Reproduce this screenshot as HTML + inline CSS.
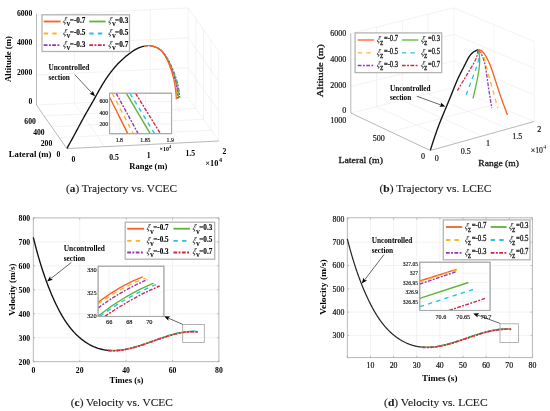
<!DOCTYPE html><html><head><meta charset="utf-8"><style>html,body{margin:0;padding:0;background:#fff;}svg{display:block;}</style></head><body><svg width="550" height="411" viewBox="0 0 550 411">
<rect width="550" height="411" fill="#fff"/>
<g font-family="'Liberation Serif', serif">
<line x1="59.22" y1="137.70" x2="211.07" y2="130.15" stroke="#e6e6e6" stroke-width="0.5" />
<line x1="51.65" y1="126.80" x2="203.45" y2="119.30" stroke="#e6e6e6" stroke-width="0.5" />
<line x1="44.08" y1="115.90" x2="195.82" y2="108.45" stroke="#e6e6e6" stroke-width="0.5" />
<line x1="104.77" y1="146.70" x2="74.42" y2="103.15" stroke="#e6e6e6" stroke-width="0.5" />
<line x1="142.75" y1="144.80" x2="112.35" y2="101.30" stroke="#e6e6e6" stroke-width="0.5" />
<line x1="180.72" y1="142.90" x2="150.27" y2="99.45" stroke="#e6e6e6" stroke-width="0.5" />
<line x1="36.50" y1="105.00" x2="188.20" y2="97.60" stroke="#e6e6e6" stroke-width="0.5" />
<line x1="188.20" y1="97.60" x2="218.70" y2="141.00" stroke="#e6e6e6" stroke-width="0.5" />
<line x1="74.42" y1="103.15" x2="74.42" y2="13.45" stroke="#e6e6e6" stroke-width="0.5" />
<line x1="112.35" y1="101.30" x2="112.35" y2="11.60" stroke="#e6e6e6" stroke-width="0.5" />
<line x1="150.27" y1="99.45" x2="150.27" y2="9.75" stroke="#e6e6e6" stroke-width="0.5" />
<line x1="188.20" y1="97.60" x2="188.20" y2="7.90" stroke="#e6e6e6" stroke-width="0.5" />
<line x1="36.50" y1="75.10" x2="188.20" y2="67.70" stroke="#e6e6e6" stroke-width="0.5" />
<line x1="36.50" y1="45.20" x2="188.20" y2="37.80" stroke="#e6e6e6" stroke-width="0.5" />
<line x1="36.50" y1="15.30" x2="188.20" y2="7.90" stroke="#e6e6e6" stroke-width="0.5" />
<line x1="211.07" y1="130.15" x2="211.07" y2="40.45" stroke="#e6e6e6" stroke-width="0.5" />
<line x1="203.45" y1="119.30" x2="203.45" y2="29.60" stroke="#e6e6e6" stroke-width="0.5" />
<line x1="195.82" y1="108.45" x2="195.82" y2="18.75" stroke="#e6e6e6" stroke-width="0.5" />
<line x1="218.70" y1="141.00" x2="218.70" y2="51.30" stroke="#e6e6e6" stroke-width="0.5" />
<line x1="188.20" y1="67.70" x2="218.70" y2="111.10" stroke="#e6e6e6" stroke-width="0.5" />
<line x1="188.20" y1="37.80" x2="218.70" y2="81.20" stroke="#e6e6e6" stroke-width="0.5" />
<line x1="188.20" y1="7.90" x2="218.70" y2="51.30" stroke="#e6e6e6" stroke-width="0.5" />
<line x1="36.50" y1="13.50" x2="36.50" y2="105.00" stroke="#b0b0b0" stroke-width="0.9" />
<line x1="36.50" y1="105.00" x2="66.80" y2="148.60" stroke="#b0b0b0" stroke-width="0.9" />
<line x1="66.80" y1="148.60" x2="218.70" y2="141.00" stroke="#b0b0b0" stroke-width="0.9" />
<text x="32.30" y="15.70" font-size="7.7" font-weight="bold" text-anchor="end">6000</text>
<text x="32.30" y="44.70" font-size="7.7" font-weight="bold" text-anchor="end">4000</text>
<text x="32.30" y="74.70" font-size="7.7" font-weight="bold" text-anchor="end">2000</text>
<text x="32.30" y="103.70" font-size="7.7" font-weight="bold" text-anchor="end">0</text>
<text x="30.10" y="124.00" font-size="7.7" font-weight="bold" text-anchor="middle">600</text>
<text x="38.90" y="134.90" font-size="7.7" font-weight="bold" text-anchor="middle">400</text>
<text x="46.50" y="145.90" font-size="7.7" font-weight="bold" text-anchor="middle">200</text>
<text x="58.30" y="157.30" font-size="7.7" font-weight="bold" text-anchor="middle">0</text>
<text x="73.40" y="162.30" font-size="7.7" font-weight="bold" text-anchor="middle">0</text>
<text x="114.00" y="160.10" font-size="7.7" font-weight="bold" text-anchor="middle">0.5</text>
<text x="148.60" y="158.30" font-size="7.7" font-weight="bold" text-anchor="middle">1</text>
<text x="190.20" y="155.90" font-size="7.7" font-weight="bold" text-anchor="middle">1.5</text>
<text x="224.40" y="153.70" font-size="7.7" font-weight="bold" text-anchor="middle">2</text>
<text x="205.30" y="166.20" font-size="8.6" font-weight="bold" textLength="13.10" lengthAdjust="spacingAndGlyphs">×10</text>
<text x="219.10" y="162.30" font-size="6.2" font-weight="bold">4</text>
<text x="8.80" y="157.00" font-size="8.7" font-weight="bold" textLength="42.70" lengthAdjust="spacingAndGlyphs">Lateral (m)</text>
<text x="129.30" y="169.00" font-size="8.7" font-weight="bold" textLength="38.10" lengthAdjust="spacingAndGlyphs">Range (m)</text>
<text x="11.30" y="82.00" font-size="9.0" font-weight="bold" textLength="46.00" lengthAdjust="spacingAndGlyphs" transform="rotate(-90 11.30 82.00)">Altitude (m)</text>
<path d="M67.00,148.30 L67.53,147.34 L68.07,146.37 L68.60,145.41 L69.13,144.44 L69.67,143.47 L70.20,142.51 L70.73,141.54 L71.26,140.58 L71.79,139.61 L72.32,138.64 L72.85,137.67 L73.38,136.70 L73.90,135.74 L74.43,134.77 L74.95,133.79 L75.47,132.82 L75.99,131.85 L76.51,130.88 L77.03,129.90 L77.55,128.93 L78.07,127.96 L78.59,126.99 L79.11,126.01 L79.63,125.04 L80.15,124.07 L80.67,123.10 L81.19,122.13 L81.72,121.16 L82.25,120.19 L82.77,119.22 L83.31,118.25 L83.84,117.29 L84.38,116.33 L84.91,115.36 L85.46,114.40 L86.00,113.44 L86.54,112.49 L87.09,111.53 L87.64,110.57 L88.19,109.61 L88.74,108.66 L89.29,107.70 L89.84,106.75 L90.39,105.79 L90.94,104.84 L91.49,103.88 L92.04,102.92 L92.58,101.97 L93.13,101.01 L93.68,100.05 L94.22,99.09 L94.76,98.13 L95.30,97.17 L95.84,96.20 L96.37,95.24 L96.91,94.27 L97.44,93.31 L97.97,92.34 L98.51,91.38 L99.05,90.41 L99.59,89.45 L100.13,88.49 L100.68,87.54 L101.23,86.58 L101.79,85.63 L102.35,84.68 L102.92,83.74 L103.49,82.80 L104.08,81.86 L104.67,80.93 L105.27,80.00 L105.87,79.08 L106.49,78.17 L107.11,77.26 L107.74,76.35 L108.38,75.45 L109.03,74.56 L109.68,73.67 L110.34,72.79 L111.02,71.91 L111.69,71.04 L112.38,70.17 L113.08,69.31 L113.78,68.46 L114.49,67.62 L115.21,66.78 L115.94,65.95 L116.67,65.13 L117.42,64.32 L118.18,63.51 L118.94,62.72 L119.72,61.93 L120.50,61.16 L121.30,60.40 L122.11,59.65 L122.93,58.91 L123.75,58.18 L124.59,57.46 L125.43,56.75 L126.29,56.05 L127.15,55.36 L128.02,54.68 L128.89,54.01 L129.77,53.34 L130.66,52.69 L131.56,52.04 L132.46,51.41 L133.38,50.79 L134.31,50.20 L135.26,49.64 L136.22,49.10 L137.21,48.60 L138.21,48.13 L139.23,47.71 L140.26,47.32 L141.31,46.97 L142.37,46.66 L143.43,46.37 L144.50,46.10" fill="none" stroke="#111" stroke-width="1.35" />
<path d="M144.50,46.10 L145.08,45.97 L145.66,45.85 L146.24,45.73 L146.81,45.64 L147.39,45.56 L147.97,45.51 L148.55,45.50 L149.13,45.52 L149.71,45.57 L150.29,45.65 L150.87,45.76 L151.44,45.88 L152.02,46.03 L152.59,46.18 L153.16,46.35 L153.73,46.52 L154.30,46.70 L154.86,46.89 L155.42,47.09 L155.97,47.31 L156.51,47.54 L157.04,47.78 L157.56,48.04 L158.09,48.31 L158.61,48.59 L159.12,48.90 L159.61,49.22 L160.09,49.57 L160.56,49.93 L161.02,50.31 L161.47,50.70 L161.91,51.11 L162.33,51.53 L162.75,51.96 L163.16,52.41 L163.55,52.86 L163.94,53.33 L164.32,53.80 L164.68,54.28 L165.05,54.77 L165.40,55.27 L165.74,55.76 L166.08,56.27 L166.41,56.77 L166.73,57.28 L167.05,57.79 L167.36,58.30 L167.66,58.81 L167.95,59.32 L168.25,59.83 L168.53,60.35 L168.81,60.86 L169.09,61.38 L169.36,61.90 L169.62,62.41 L169.88,62.94 L170.14,63.46 L170.39,63.98 L170.64,64.50 L170.89,65.03 L171.13,65.55 L171.37,66.08 L171.60,66.61 L171.84,67.14 L172.07,67.67 L172.30,68.20 L172.53,68.74 L172.75,69.27 L172.97,69.81 L173.19,70.34 L173.41,70.88 L173.63,71.42 L173.84,71.96 L174.05,72.50 L174.25,73.04 L174.46,73.59 L174.66,74.13 L174.85,74.67 L175.05,75.22 L175.24,75.77 L175.43,76.31 L175.61,76.86 L175.79,77.41 L175.97,77.96 L176.14,78.51 L176.31,79.06 L176.47,79.61 L176.63,80.17 L176.79,80.72 L176.95,81.27 L177.10,81.83 L177.24,82.38 L177.39,82.94 L177.53,83.50 L177.67,84.05 L177.80,84.61 L177.93,85.17 L178.06,85.73 L178.18,86.29 L178.30,86.85 L178.42,87.41 L178.54,87.97 L178.65,88.53 L178.76,89.09 L178.87,89.65 L178.97,90.21 L179.08,90.77 L179.18,91.33 L179.23,91.91 L179.28,92.50 L179.34,93.08 L179.38,93.66 L179.43,94.25 L179.48,94.83 L179.52,95.41 L179.57,96.00 L179.61,96.58 L179.66,97.17 L179.70,97.75" fill="none" stroke="#d1264a" stroke-width="1.2" stroke-dasharray="3.8,1.4,1.9,1.4" />
<path d="M144.50,46.10 L145.08,45.97 L145.66,45.85 L146.24,45.73 L146.81,45.64 L147.39,45.56 L147.97,45.51 L148.55,45.50 L149.13,45.52 L149.71,45.57 L150.29,45.65 L150.87,45.76 L151.44,45.88 L152.02,46.03 L152.59,46.18 L153.16,46.35 L153.73,46.52 L154.30,46.70 L154.86,46.89 L155.42,47.09 L155.97,47.31 L156.51,47.54 L157.04,47.78 L157.56,48.04 L158.09,48.31 L158.60,48.60 L159.11,48.90 L159.59,49.23 L160.07,49.58 L160.54,49.94 L160.99,50.32 L161.43,50.72 L161.86,51.13 L162.28,51.55 L162.69,51.99 L163.09,52.44 L163.48,52.90 L163.86,53.36 L164.24,53.84 L164.60,54.33 L164.95,54.82 L165.30,55.32 L165.63,55.82 L165.96,56.32 L166.29,56.83 L166.60,57.34 L166.91,57.85 L167.21,58.37 L167.51,58.88 L167.80,59.40 L168.08,59.91 L168.36,60.43 L168.63,60.95 L168.90,61.47 L169.16,61.99 L169.42,62.51 L169.68,63.04 L169.93,63.56 L170.17,64.09 L170.41,64.62 L170.65,65.15 L170.89,65.68 L171.12,66.21 L171.35,66.74 L171.57,67.27 L171.80,67.81 L172.02,68.34 L172.24,68.88 L172.46,69.42 L172.67,69.96 L172.88,70.50 L173.09,71.04 L173.30,71.58 L173.51,72.13 L173.71,72.67 L173.91,73.22 L174.10,73.76 L174.30,74.31 L174.48,74.86 L174.67,75.41 L174.85,75.96 L175.03,76.51 L175.21,77.06 L175.38,77.61 L175.55,78.17 L175.72,78.72 L175.88,79.28 L176.04,79.83 L176.19,80.39 L176.34,80.95 L176.49,81.50 L176.63,82.06 L176.77,82.62 L176.90,83.18 L177.04,83.74 L177.17,84.30 L177.29,84.86 L177.42,85.43 L177.54,85.99 L177.65,86.55 L177.77,87.11 L177.88,87.68 L177.98,88.24 L178.09,88.81 L178.19,89.37 L178.29,89.94 L178.39,90.50 L178.48,91.07 L178.58,91.63 L178.63,92.21 L178.68,92.80 L178.74,93.38 L178.78,93.96 L178.83,94.55 L178.88,95.13 L178.92,95.71 L178.97,96.30 L179.01,96.88 L179.06,97.47 L179.10,98.05" fill="none" stroke="#27c0f0" stroke-width="1.2" stroke-dasharray="4.4,4.2" />
<path d="M144.50,46.10 L145.08,45.97 L145.66,45.85 L146.24,45.73 L146.81,45.64 L147.39,45.56 L147.97,45.51 L148.55,45.50 L149.13,45.52 L149.71,45.57 L150.29,45.65 L150.87,45.76 L151.44,45.88 L152.02,46.03 L152.59,46.18 L153.16,46.35 L153.73,46.52 L154.30,46.70 L154.86,46.89 L155.42,47.09 L155.97,47.31 L156.51,47.54 L157.04,47.78 L157.56,48.04 L158.08,48.31 L158.59,48.60 L159.09,48.91 L159.58,49.24 L160.05,49.59 L160.51,49.95 L160.96,50.34 L161.40,50.74 L161.82,51.15 L162.24,51.58 L162.64,52.02 L163.03,52.47 L163.42,52.93 L163.79,53.40 L164.16,53.88 L164.51,54.37 L164.86,54.86 L165.20,55.37 L165.53,55.87 L165.85,56.38 L166.17,56.89 L166.47,57.41 L166.78,57.92 L167.07,58.44 L167.36,58.96 L167.64,59.48 L167.92,60.00 L168.19,60.52 L168.46,61.04 L168.72,61.56 L168.97,62.09 L169.22,62.61 L169.47,63.14 L169.71,63.67 L169.95,64.20 L170.18,64.73 L170.42,65.26 L170.64,65.80 L170.87,66.33 L171.09,66.87 L171.31,67.40 L171.53,67.94 L171.74,68.48 L171.95,69.02 L172.16,69.57 L172.37,70.11 L172.57,70.65 L172.78,71.20 L172.98,71.74 L173.17,72.29 L173.37,72.84 L173.56,73.39 L173.75,73.94 L173.93,74.49 L174.12,75.04 L174.29,75.60 L174.47,76.15 L174.64,76.70 L174.81,77.26 L174.98,77.82 L175.14,78.37 L175.29,78.93 L175.45,79.49 L175.60,80.05 L175.74,80.61 L175.89,81.17 L176.03,81.74 L176.16,82.30 L176.29,82.86 L176.42,83.42 L176.55,83.99 L176.67,84.55 L176.79,85.12 L176.90,85.68 L177.01,86.25 L177.12,86.82 L177.23,87.38 L177.33,87.95 L177.43,88.52 L177.53,89.09 L177.62,89.65 L177.72,90.22 L177.81,90.79 L177.89,91.36 L177.98,91.93 L178.03,92.51 L178.08,93.10 L178.14,93.68 L178.18,94.26 L178.23,94.85 L178.28,95.43 L178.32,96.01 L178.37,96.60 L178.41,97.18 L178.46,97.77 L178.50,98.35" fill="none" stroke="#5db535" stroke-width="1.2" />
<path d="M144.50,46.10 L145.08,45.97 L145.66,45.85 L146.24,45.73 L146.81,45.64 L147.39,45.56 L147.97,45.51 L148.55,45.50 L149.13,45.52 L149.71,45.57 L150.29,45.65 L150.87,45.76 L151.44,45.88 L152.02,46.03 L152.59,46.18 L153.16,46.35 L153.73,46.52 L154.30,46.70 L154.86,46.89 L155.42,47.09 L155.97,47.31 L156.51,47.54 L157.04,47.78 L157.56,48.04 L158.08,48.31 L158.59,48.61 L159.08,48.92 L159.56,49.25 L160.03,49.60 L160.48,49.97 L160.92,50.36 L161.35,50.76 L161.77,51.17 L162.18,51.60 L162.58,52.05 L162.96,52.50 L163.34,52.97 L163.70,53.44 L164.06,53.93 L164.41,54.42 L164.75,54.92 L165.08,55.42 L165.40,55.93 L165.72,56.45 L166.02,56.96 L166.32,57.48 L166.62,58.00 L166.90,58.52 L167.18,59.04 L167.46,59.57 L167.73,60.09 L167.99,60.62 L168.25,61.14 L168.50,61.67 L168.75,62.20 L168.99,62.73 L169.23,63.26 L169.46,63.80 L169.69,64.33 L169.92,64.86 L170.14,65.40 L170.36,65.94 L170.58,66.48 L170.79,67.02 L171.00,67.56 L171.21,68.10 L171.41,68.65 L171.62,69.19 L171.82,69.74 L172.02,70.28 L172.21,70.83 L172.41,71.38 L172.60,71.93 L172.79,72.48 L172.97,73.04 L173.16,73.59 L173.33,74.15 L173.51,74.70 L173.68,75.26 L173.85,75.82 L174.02,76.37 L174.18,76.93 L174.34,77.49 L174.50,78.05 L174.65,78.62 L174.80,79.18 L174.95,79.74 L175.09,80.31 L175.22,80.87 L175.36,81.44 L175.49,82.00 L175.61,82.57 L175.74,83.14 L175.86,83.71 L175.97,84.27 L176.09,84.84 L176.19,85.41 L176.30,85.98 L176.40,86.55 L176.50,87.13 L176.60,87.70 L176.70,88.27 L176.79,88.84 L176.87,89.41 L176.96,89.99 L177.04,90.56 L177.12,91.13 L177.20,91.71 L177.28,92.28 L177.33,92.86 L177.38,93.45 L177.44,94.03 L177.48,94.61 L177.53,95.20 L177.58,95.78 L177.62,96.36 L177.67,96.95 L177.71,97.53 L177.76,98.12 L177.80,98.70" fill="none" stroke="#9a34b5" stroke-width="1.2" stroke-dasharray="3.8,1.4,1.9,1.4" />
<path d="M144.50,46.10 L145.08,45.97 L145.66,45.85 L146.24,45.73 L146.81,45.64 L147.39,45.56 L147.97,45.51 L148.55,45.50 L149.13,45.52 L149.71,45.57 L150.29,45.65 L150.87,45.76 L151.44,45.88 L152.02,46.03 L152.59,46.18 L153.16,46.35 L153.73,46.52 L154.30,46.70 L154.86,46.89 L155.42,47.09 L155.97,47.31 L156.51,47.54 L157.04,47.78 L157.56,48.04 L158.07,48.32 L158.58,48.61 L159.06,48.93 L159.54,49.26 L160.00,49.61 L160.45,49.99 L160.88,50.37 L161.31,50.78 L161.72,51.20 L162.12,51.63 L162.51,52.08 L162.89,52.54 L163.26,53.01 L163.62,53.49 L163.97,53.97 L164.31,54.47 L164.64,54.97 L164.96,55.48 L165.28,56.00 L165.58,56.51 L165.88,57.03 L166.17,57.56 L166.46,58.08 L166.74,58.60 L167.01,59.13 L167.28,59.66 L167.54,60.19 L167.79,60.72 L168.04,61.25 L168.28,61.78 L168.52,62.31 L168.76,62.85 L168.99,63.38 L169.21,63.92 L169.43,64.46 L169.65,65.00 L169.87,65.54 L170.08,66.08 L170.28,66.62 L170.49,67.17 L170.69,67.71 L170.89,68.26 L171.09,68.81 L171.28,69.36 L171.47,69.91 L171.67,70.46 L171.85,71.01 L172.04,71.57 L172.22,72.12 L172.40,72.68 L172.58,73.24 L172.75,73.79 L172.92,74.35 L173.09,74.91 L173.25,75.47 L173.42,76.04 L173.57,76.60 L173.73,77.16 L173.88,77.73 L174.03,78.29 L174.17,78.86 L174.31,79.43 L174.44,79.99 L174.58,80.56 L174.71,81.13 L174.83,81.70 L174.95,82.27 L175.07,82.84 L175.18,83.42 L175.29,83.99 L175.40,84.56 L175.50,85.14 L175.60,85.71 L175.70,86.28 L175.79,86.86 L175.89,87.43 L175.97,88.01 L176.06,88.59 L176.14,89.16 L176.22,89.74 L176.30,90.32 L176.37,90.90 L176.44,91.47 L176.51,92.05 L176.58,92.63 L176.63,93.21 L176.68,93.80 L176.74,94.38 L176.78,94.96 L176.83,95.55 L176.88,96.13 L176.92,96.71 L176.97,97.30 L177.01,97.88 L177.06,98.47 L177.10,99.05" fill="none" stroke="#fdb42a" stroke-width="1.2" stroke-dasharray="4.4,4.2" />
<path d="M144.50,46.10 L145.08,45.97 L145.66,45.85 L146.24,45.73 L146.81,45.64 L147.39,45.56 L147.97,45.51 L148.55,45.50 L149.13,45.52 L149.71,45.57 L150.29,45.65 L150.87,45.76 L151.44,45.88 L152.02,46.03 L152.59,46.18 L153.16,46.35 L153.73,46.52 L154.30,46.70 L154.86,46.89 L155.42,47.09 L155.97,47.31 L156.51,47.54 L157.04,47.78 L157.56,48.04 L158.07,48.32 L158.57,48.62 L159.05,48.93 L159.52,49.27 L159.97,49.63 L160.42,50.00 L160.85,50.39 L161.27,50.80 L161.67,51.22 L162.06,51.66 L162.45,52.11 L162.82,52.57 L163.18,53.05 L163.53,53.53 L163.87,54.02 L164.21,54.52 L164.53,55.03 L164.84,55.54 L165.15,56.06 L165.45,56.58 L165.74,57.11 L166.02,57.63 L166.30,58.16 L166.57,58.69 L166.84,59.22 L167.09,59.75 L167.35,60.28 L167.59,60.82 L167.83,61.35 L168.07,61.89 L168.30,62.42 L168.52,62.96 L168.75,63.50 L168.96,64.04 L169.18,64.59 L169.39,65.13 L169.59,65.68 L169.79,66.22 L169.99,66.77 L170.19,67.32 L170.38,67.87 L170.57,68.42 L170.76,68.97 L170.95,69.53 L171.13,70.08 L171.31,70.64 L171.49,71.19 L171.67,71.75 L171.84,72.31 L172.01,72.87 L172.18,73.43 L172.35,74.00 L172.51,74.56 L172.67,75.12 L172.82,75.69 L172.98,76.26 L173.12,76.82 L173.27,77.39 L173.41,77.96 L173.55,78.53 L173.69,79.10 L173.82,79.67 L173.94,80.24 L174.07,80.82 L174.19,81.39 L174.30,81.97 L174.41,82.54 L174.52,83.12 L174.63,83.69 L174.73,84.27 L174.83,84.85 L174.92,85.43 L175.01,86.00 L175.10,86.58 L175.19,87.16 L175.27,87.74 L175.35,88.32 L175.42,88.91 L175.50,89.49 L175.57,90.07 L175.63,90.65 L175.70,91.23 L175.76,91.81 L175.82,92.40 L175.88,92.98 L175.93,93.56 L175.98,94.15 L176.04,94.73 L176.08,95.31 L176.13,95.90 L176.18,96.48 L176.22,97.06 L176.27,97.65 L176.31,98.23 L176.36,98.82 L176.40,99.40" fill="none" stroke="#f7601f" stroke-width="1.2" />
<rect x="42.00" y="14.80" width="87.50" height="36.70" fill="#fff" stroke="#b4b4b4" stroke-width="1.3"/>
<path d="M43.70,21.50 L60.60,21.50" fill="none" stroke="#f7601f" stroke-width="1.8" />
<text transform="translate(62.70,23.20) skewX(-14)" font-size="7.8" font-style="italic" fill="#222" stroke="#222" stroke-width="0.12">ξ</text>
<text x="66.60" y="26.40" font-size="5.4" font-weight="bold" stroke="#222" stroke-width="0.15">V</text>
<text x="69.80" y="22.90" font-size="7.4" font-weight="bold" textLength="15.60" lengthAdjust="spacingAndGlyphs" stroke="#222" stroke-width="0.15">=-0.7</text>
<path d="M89.30,21.50 L105.70,21.50" fill="none" stroke="#5db535" stroke-width="1.8" />
<text transform="translate(108.00,23.20) skewX(-14)" font-size="7.8" font-style="italic" fill="#222" stroke="#222" stroke-width="0.12">ξ</text>
<text x="111.90" y="26.40" font-size="5.4" font-weight="bold" stroke="#222" stroke-width="0.15">V</text>
<text x="115.10" y="22.90" font-size="7.4" font-weight="bold" textLength="13.20" lengthAdjust="spacingAndGlyphs" stroke="#222" stroke-width="0.15">=0.3</text>
<path d="M43.70,33.50 L60.60,33.50" fill="none" stroke="#fdb42a" stroke-width="1.8" stroke-dasharray="4.4,4.2" />
<text transform="translate(62.70,35.20) skewX(-14)" font-size="7.8" font-style="italic" fill="#222" stroke="#222" stroke-width="0.12">ξ</text>
<text x="66.60" y="38.40" font-size="5.4" font-weight="bold" stroke="#222" stroke-width="0.15">V</text>
<text x="69.80" y="34.90" font-size="7.4" font-weight="bold" textLength="15.60" lengthAdjust="spacingAndGlyphs" stroke="#222" stroke-width="0.15">=-0.5</text>
<path d="M89.30,33.50 L105.70,33.50" fill="none" stroke="#27c0f0" stroke-width="1.8" stroke-dasharray="4.4,4.2" />
<text transform="translate(108.00,35.20) skewX(-14)" font-size="7.8" font-style="italic" fill="#222" stroke="#222" stroke-width="0.12">ξ</text>
<text x="111.90" y="38.40" font-size="5.4" font-weight="bold" stroke="#222" stroke-width="0.15">V</text>
<text x="115.10" y="34.90" font-size="7.4" font-weight="bold" textLength="13.20" lengthAdjust="spacingAndGlyphs" stroke="#222" stroke-width="0.15">=0.5</text>
<path d="M43.70,45.10 L60.60,45.10" fill="none" stroke="#9a34b5" stroke-width="1.8" stroke-dasharray="3.8,1.4,1.9,1.4" />
<text transform="translate(62.70,46.80) skewX(-14)" font-size="7.8" font-style="italic" fill="#222" stroke="#222" stroke-width="0.12">ξ</text>
<text x="66.60" y="50.00" font-size="5.4" font-weight="bold" stroke="#222" stroke-width="0.15">V</text>
<text x="69.80" y="46.50" font-size="7.4" font-weight="bold" textLength="15.60" lengthAdjust="spacingAndGlyphs" stroke="#222" stroke-width="0.15">=-0.3</text>
<path d="M89.30,45.10 L105.70,45.10" fill="none" stroke="#d1264a" stroke-width="1.8" stroke-dasharray="3.8,1.4,1.9,1.4" />
<text transform="translate(108.00,46.80) skewX(-14)" font-size="7.8" font-style="italic" fill="#222" stroke="#222" stroke-width="0.12">ξ</text>
<text x="111.90" y="50.00" font-size="5.4" font-weight="bold" stroke="#222" stroke-width="0.15">V</text>
<text x="115.10" y="46.50" font-size="7.4" font-weight="bold" textLength="13.20" lengthAdjust="spacingAndGlyphs" stroke="#222" stroke-width="0.15">=0.7</text>
<text x="48.40" y="70.30" font-size="7.4" font-weight="bold" textLength="41.00" lengthAdjust="spacingAndGlyphs">Uncontrolled</text>
<text x="48.40" y="79.60" font-size="7.4" font-weight="bold" textLength="21.50" lengthAdjust="spacingAndGlyphs">section</text>
<line x1="74.80" y1="74.70" x2="91.94" y2="93.03" stroke="#000" stroke-width="0.6" />
<path d="M95.00,96.30 L89.50,93.78 L91.94,93.03 L92.85,90.64 Z" fill="#000"/>
<rect x="109.60" y="93.20" width="62.00" height="40.50" fill="#fff" stroke="#a6a6a6" stroke-width="0.9"/>
<line x1="119.80" y1="93.30" x2="119.80" y2="133.60" stroke="#e6e6e6" stroke-width="0.5" />
<line x1="145.40" y1="93.30" x2="145.40" y2="133.60" stroke="#e6e6e6" stroke-width="0.5" />
<line x1="109.60" y1="101.50" x2="171.60" y2="101.50" stroke="#e6e6e6" stroke-width="0.5" />
<line x1="109.60" y1="112.70" x2="171.60" y2="112.70" stroke="#e6e6e6" stroke-width="0.5" />
<line x1="109.60" y1="124.10" x2="171.60" y2="124.10" stroke="#e6e6e6" stroke-width="0.5" />
<path d="M109.90,97.80 L127.80,133.60" fill="none" stroke="#f7601f" stroke-width="1.4" />
<path d="M112.20,93.30 L133.20,133.60" fill="none" stroke="#fdb42a" stroke-width="1.4" stroke-dasharray="4.4,4.2" />
<path d="M116.20,93.30 L138.10,133.60" fill="none" stroke="#9a34b5" stroke-width="1.4" stroke-dasharray="3.8,1.4,1.9,1.4" />
<path d="M126.40,93.30 L150.20,133.60" fill="none" stroke="#5db535" stroke-width="1.4" />
<path d="M130.00,93.30 L154.60,133.60" fill="none" stroke="#27c0f0" stroke-width="1.4" stroke-dasharray="4.4,4.2" />
<path d="M135.60,93.30 L160.40,133.60" fill="none" stroke="#d1264a" stroke-width="1.4" stroke-dasharray="3.8,1.4,1.9,1.4" />
<rect x="109.6" y="93.2" width="62" height="40.5" fill="none" stroke="#a6a6a6" stroke-width="0.9"/>
<text x="108.00" y="103.40" font-size="5.7" text-anchor="end" stroke="#222" stroke-width="0.15">600</text>
<text x="108.00" y="114.70" font-size="5.7" text-anchor="end" stroke="#222" stroke-width="0.15">400</text>
<text x="108.00" y="126.10" font-size="5.7" text-anchor="end" stroke="#222" stroke-width="0.15">200</text>
<text x="119.30" y="142.10" font-size="5.8" text-anchor="middle" stroke="#222" stroke-width="0.15">1.8</text>
<text x="145.40" y="142.10" font-size="5.8" text-anchor="middle" stroke="#222" stroke-width="0.15">1.85</text>
<text x="170.20" y="142.10" font-size="5.8" text-anchor="middle" stroke="#222" stroke-width="0.15">1.9</text>
<text x="159.50" y="150.50" font-size="5.4" font-weight="bold" textLength="9.40" lengthAdjust="spacingAndGlyphs">×10</text>
<text x="169.10" y="148.00" font-size="4.2" font-weight="bold">4</text>
<text x="66" y="192" font-size="11.4" fill="#1a1a1a" stroke="#1a1a1a" stroke-width="0.12" textLength="111" lengthAdjust="spacingAndGlyphs">(<tspan font-weight="bold">a</tspan>) Trajectory vs. VCEC</text>
<line x1="390.55" y1="131.75" x2="494.05" y2="104.55" stroke="#e6e6e6" stroke-width="0.5" />
<line x1="456.28" y1="143.25" x2="376.58" y2="106.65" stroke="#e6e6e6" stroke-width="0.5" />
<line x1="482.25" y1="136.00" x2="402.35" y2="100.30" stroke="#e6e6e6" stroke-width="0.5" />
<line x1="508.23" y1="128.75" x2="428.12" y2="93.95" stroke="#e6e6e6" stroke-width="0.5" />
<line x1="350.80" y1="113.00" x2="453.90" y2="87.60" stroke="#e6e6e6" stroke-width="0.5" />
<line x1="453.90" y1="87.60" x2="534.20" y2="121.50" stroke="#e6e6e6" stroke-width="0.5" />
<line x1="376.57" y1="106.65" x2="376.57" y2="27.07" stroke="#e6e6e6" stroke-width="0.5" />
<line x1="402.35" y1="100.30" x2="402.35" y2="20.65" stroke="#e6e6e6" stroke-width="0.5" />
<line x1="428.12" y1="93.95" x2="428.12" y2="14.23" stroke="#e6e6e6" stroke-width="0.5" />
<line x1="453.90" y1="87.60" x2="453.90" y2="7.80" stroke="#e6e6e6" stroke-width="0.5" />
<line x1="350.80" y1="86.50" x2="453.90" y2="61.00" stroke="#e6e6e6" stroke-width="0.5" />
<line x1="350.80" y1="60.00" x2="453.90" y2="34.40" stroke="#e6e6e6" stroke-width="0.5" />
<line x1="350.80" y1="33.50" x2="453.90" y2="7.80" stroke="#e6e6e6" stroke-width="0.5" />
<line x1="494.05" y1="104.55" x2="494.05" y2="24.65" stroke="#e6e6e6" stroke-width="0.5" />
<line x1="534.20" y1="121.50" x2="534.20" y2="41.50" stroke="#e6e6e6" stroke-width="0.5" />
<line x1="453.90" y1="61.00" x2="534.20" y2="94.83" stroke="#e6e6e6" stroke-width="0.5" />
<line x1="453.90" y1="34.40" x2="534.20" y2="68.17" stroke="#e6e6e6" stroke-width="0.5" />
<line x1="453.90" y1="7.80" x2="534.20" y2="41.50" stroke="#e6e6e6" stroke-width="0.5" />
<line x1="350.80" y1="33.50" x2="350.80" y2="113.00" stroke="#b0b0b0" stroke-width="0.9" />
<line x1="350.80" y1="113.00" x2="430.30" y2="150.50" stroke="#b0b0b0" stroke-width="0.9" />
<line x1="430.30" y1="150.50" x2="534.20" y2="121.50" stroke="#b0b0b0" stroke-width="0.9" />
<text x="346.20" y="36.10" font-size="8.0" text-anchor="end" stroke="#222" stroke-width="0.18">6000</text>
<text x="346.20" y="62.10" font-size="8.0" text-anchor="end" stroke="#222" stroke-width="0.18">4000</text>
<text x="346.20" y="88.30" font-size="8.0" text-anchor="end" stroke="#222" stroke-width="0.18">2000</text>
<text x="346.20" y="113.30" font-size="8.0" text-anchor="end" stroke="#222" stroke-width="0.18">0</text>
<text x="346.20" y="122.90" font-size="8.0" text-anchor="end" stroke="#222" stroke-width="0.18">1000</text>
<text x="378.80" y="141.10" font-size="8.0" text-anchor="middle" stroke="#222" stroke-width="0.18">500</text>
<text x="423.10" y="159.40" font-size="8.0" text-anchor="middle" stroke="#222" stroke-width="0.18">0</text>
<text x="436.70" y="160.50" font-size="8.0" text-anchor="middle" stroke="#222" stroke-width="0.18">0</text>
<text x="465.80" y="153.80" font-size="8.0" text-anchor="middle" stroke="#222" stroke-width="0.18">0.5</text>
<text x="488.00" y="146.40" font-size="8.0" text-anchor="middle" stroke="#222" stroke-width="0.18">1</text>
<text x="517.20" y="139.10" font-size="8.0" text-anchor="middle" stroke="#222" stroke-width="0.18">1.5</text>
<text x="539.30" y="132.30" font-size="8.0" text-anchor="middle" stroke="#222" stroke-width="0.18">2</text>
<text x="530.8" y="153.0" font-size="8.2" fill="#222" stroke="#222" stroke-width="0.2" textLength="12.2" lengthAdjust="spacingAndGlyphs">×10</text><text x="543.2" y="149.3" font-size="6" fill="#222">4</text>
<text x="338.50" y="163.30" font-size="9.2" textLength="44.50" lengthAdjust="spacingAndGlyphs" stroke="#222" stroke-width="0.3">Lateral (m)</text>
<text x="478.30" y="166.00" font-size="9.2" textLength="40.60" lengthAdjust="spacingAndGlyphs" stroke="#222" stroke-width="0.3">Range (m)</text>
<text x="323.40" y="97.20" font-size="8.4" textLength="53.00" lengthAdjust="spacingAndGlyphs" stroke="#222" stroke-width="0.3" transform="rotate(-90 323.40 97.20)">Altitude (m)</text>
<path d="M430.30,150.30 L430.59,149.40 L430.88,148.49 L431.17,147.59 L431.46,146.68 L431.76,145.78 L432.05,144.87 L432.34,143.97 L432.63,143.07 L432.93,142.16 L433.23,141.26 L433.52,140.36 L433.82,139.46 L434.12,138.56 L434.42,137.66 L434.73,136.76 L435.03,135.86 L435.34,134.96 L435.65,134.06 L435.96,133.16 L436.27,132.27 L436.59,131.37 L436.90,130.48 L437.23,129.58 L437.55,128.69 L437.88,127.80 L438.20,126.91 L438.54,126.02 L438.87,125.13 L439.21,124.25 L439.55,123.36 L439.90,122.48 L440.25,121.59 L440.60,120.71 L440.95,119.83 L441.31,118.95 L441.67,118.07 L442.02,117.19 L442.39,116.31 L442.75,115.43 L443.11,114.56 L443.48,113.68 L443.84,112.80 L444.21,111.93 L444.57,111.05 L444.94,110.17 L445.31,109.30 L445.67,108.42 L446.04,107.55 L446.40,106.67 L446.77,105.79 L447.13,104.92 L447.50,104.04 L447.86,103.17 L448.22,102.29 L448.58,101.41 L448.94,100.53 L449.30,99.66 L449.66,98.78 L450.02,97.90 L450.38,97.02 L450.73,96.14 L451.09,95.26 L451.45,94.38 L451.80,93.50 L452.16,92.62 L452.51,91.73 L452.86,90.85 L453.21,89.96 L453.57,89.08 L453.92,88.19 L454.27,87.31 L454.62,86.42 L454.98,85.54 L455.34,84.66 L455.70,83.78 L456.06,82.90 L456.43,82.03 L456.80,81.16 L457.18,80.29 L457.56,79.43 L457.95,78.57 L458.35,77.72 L458.75,76.87 L459.16,76.02 L459.57,75.18 L459.99,74.34 L460.42,73.50 L460.84,72.67 L461.27,71.83 L461.71,70.99 L462.14,70.15 L462.58,69.31 L463.02,68.47 L463.46,67.62 L463.90,66.77 L464.34,65.91 L464.77,65.05 L465.21,64.18 L465.65,63.30 L466.08,62.42 L466.52,61.53 L466.96,60.65 L467.41,59.77 L467.88,58.90 L468.36,58.05 L468.85,57.22 L469.37,56.41 L469.92,55.62 L470.49,54.87 L471.09,54.16 L471.74,53.49 L472.42,52.86 L473.14,52.29 L473.91,51.77 L474.71,51.29 L475.56,50.86 L476.42,50.46 L477.31,50.07 L478.20,49.70" fill="none" stroke="#111" stroke-width="1.35" />
<path d="M477.80,49.80 L477.77,50.19 L477.73,50.57 L477.70,50.96 L477.66,51.35 L477.62,51.73 L477.58,52.12 L477.54,52.50 L477.49,52.89 L477.43,53.27 L477.37,53.65 L477.31,54.03 L477.24,54.40 L477.16,54.78 L477.08,55.15 L476.99,55.52 L476.89,55.89 L476.78,56.26 L476.67,56.63 L476.56,56.99 L476.44,57.36 L476.31,57.72 L476.17,58.08 L476.04,58.44 L475.89,58.79 L475.74,59.15 L475.59,59.50 L475.44,59.86 L475.27,60.21 L475.11,60.56 L474.94,60.91 L474.77,61.26 L474.59,61.60 L474.41,61.95 L474.23,62.30 L474.05,62.64 L473.86,62.98 L473.67,63.33 L473.48,63.67 L473.28,64.01 L473.09,64.35 L472.89,64.69 L472.69,65.03 L472.49,65.37 L472.29,65.71 L472.09,66.05 L471.89,66.38 L471.69,66.72 L471.49,67.06 L471.28,67.39 L471.08,67.73 L470.88,68.07 L470.68,68.40 L470.48,68.74 L470.27,69.08 L470.07,69.41 L469.87,69.75 L469.67,70.08 L469.47,70.42 L469.27,70.75 L469.07,71.09 L468.87,71.42 L468.67,71.75 L468.47,72.09 L468.27,72.42 L468.07,72.75 L467.87,73.09 L467.67,73.42 L467.47,73.75 L467.27,74.09 L467.07,74.42 L466.87,74.75 L466.67,75.09 L466.47,75.42 L466.28,75.75 L466.08,76.08 L465.88,76.41 L465.68,76.75 L465.48,77.08 L465.28,77.41 L465.09,77.74 L464.89,78.07 L464.69,78.40 L464.49,78.73 L464.29,79.06 L464.10,79.40 L463.90,79.73 L463.70,80.06 L463.50,80.39 L463.30,80.72 L463.11,81.05 L462.91,81.38 L462.71,81.71 L462.52,82.04 L462.32,82.37 L462.12,82.70 L461.92,83.03 L461.73,83.36 L461.53,83.69 L461.33,84.02 L461.14,84.35 L460.94,84.68 L460.74,85.01 L460.55,85.33 L460.35,85.66 L460.15,85.99 L459.96,86.32 L459.76,86.65 L459.56,86.98 L459.37,87.31 L459.17,87.64 L458.97,87.97 L458.78,88.30 L458.58,88.63 L458.38,88.96 L458.19,89.28 L457.99,89.61 L457.79,89.94 L457.60,90.27 L457.40,90.60" fill="none" stroke="#d1264a" stroke-width="1.3" stroke-dasharray="3.8,1.4,1.9,1.4" />
<path d="M478.20,49.80 L478.26,50.21 L478.32,50.62 L478.38,51.03 L478.43,51.43 L478.49,51.84 L478.54,52.25 L478.59,52.66 L478.64,53.07 L478.68,53.47 L478.71,53.88 L478.74,54.29 L478.77,54.70 L478.79,55.10 L478.80,55.51 L478.80,55.91 L478.80,56.32 L478.79,56.72 L478.77,57.13 L478.75,57.53 L478.72,57.93 L478.68,58.34 L478.63,58.74 L478.58,59.14 L478.53,59.54 L478.47,59.94 L478.40,60.34 L478.32,60.74 L478.25,61.14 L478.16,61.54 L478.07,61.94 L477.98,62.34 L477.88,62.74 L477.78,63.14 L477.68,63.54 L477.57,63.93 L477.45,64.33 L477.33,64.73 L477.21,65.12 L477.09,65.52 L476.96,65.91 L476.83,66.31 L476.70,66.70 L476.56,67.10 L476.43,67.49 L476.28,67.89 L476.14,68.28 L476.00,68.67 L475.85,69.07 L475.71,69.46 L475.56,69.85 L475.41,70.24 L475.26,70.63 L475.11,71.03 L474.96,71.42 L474.80,71.81 L474.65,72.20 L474.50,72.59 L474.35,72.98 L474.20,73.37 L474.05,73.76 L473.89,74.14 L473.74,74.53 L473.59,74.92 L473.44,75.31 L473.29,75.70 L473.15,76.09 L473.00,76.47 L472.85,76.86 L472.70,77.25 L472.55,77.63 L472.41,78.02 L472.26,78.41 L472.11,78.79 L471.97,79.18 L471.82,79.56 L471.68,79.95 L471.53,80.34 L471.39,80.72 L471.24,81.11 L471.10,81.49 L470.95,81.87 L470.81,82.26 L470.66,82.64 L470.52,83.03 L470.38,83.41 L470.23,83.79 L470.09,84.18 L469.95,84.56 L469.81,84.95 L469.66,85.33 L469.52,85.71 L469.38,86.09 L469.24,86.48 L469.10,86.86 L468.96,87.24 L468.82,87.62 L468.67,88.01 L468.53,88.39 L468.39,88.77 L468.25,89.15 L468.11,89.53 L467.97,89.92 L467.83,90.30 L467.69,90.68 L467.55,91.06 L467.41,91.44 L467.27,91.82 L467.13,92.21 L466.99,92.59 L466.85,92.97 L466.71,93.35 L466.57,93.73 L466.44,94.11 L466.30,94.49 L466.16,94.88 L466.02,95.26 L465.88,95.64 L465.74,96.02 L465.60,96.40" fill="none" stroke="#27c0f0" stroke-width="1.3" stroke-dasharray="4.4,4.2" />
<path d="M478.50,49.80 L478.57,50.21 L478.64,50.62 L478.71,51.03 L478.78,51.44 L478.85,51.85 L478.91,52.26 L478.98,52.67 L479.04,53.08 L479.10,53.49 L479.16,53.90 L479.22,54.31 L479.28,54.72 L479.33,55.13 L479.38,55.54 L479.42,55.95 L479.47,56.37 L479.51,56.78 L479.54,57.19 L479.57,57.60 L479.60,58.01 L479.62,58.43 L479.64,58.84 L479.66,59.25 L479.67,59.67 L479.67,60.08 L479.67,60.49 L479.67,60.91 L479.66,61.32 L479.65,61.74 L479.64,62.15 L479.63,62.56 L479.61,62.98 L479.58,63.39 L479.56,63.81 L479.53,64.22 L479.50,64.64 L479.46,65.05 L479.43,65.47 L479.39,65.88 L479.35,66.29 L479.30,66.71 L479.26,67.12 L479.21,67.53 L479.16,67.95 L479.11,68.36 L479.06,68.77 L479.00,69.18 L478.95,69.60 L478.89,70.01 L478.83,70.42 L478.77,70.83 L478.71,71.24 L478.65,71.65 L478.58,72.06 L478.52,72.47 L478.45,72.88 L478.39,73.29 L478.32,73.70 L478.25,74.11 L478.18,74.52 L478.11,74.92 L478.04,75.33 L477.96,75.74 L477.89,76.15 L477.81,76.56 L477.74,76.96 L477.66,77.37 L477.58,77.78 L477.50,78.18 L477.42,78.59 L477.34,79.00 L477.26,79.40 L477.18,79.81 L477.10,80.21 L477.02,80.62 L476.93,81.02 L476.85,81.43 L476.76,81.84 L476.68,82.24 L476.59,82.65 L476.50,83.05 L476.42,83.46 L476.33,83.86 L476.24,84.26 L476.15,84.67 L476.07,85.07 L475.98,85.48 L475.89,85.88 L475.80,86.29 L475.71,86.69 L475.62,87.10 L475.53,87.50 L475.44,87.90 L475.34,88.31 L475.25,88.71 L475.16,89.12 L475.07,89.52 L474.98,89.92 L474.88,90.33 L474.79,90.73 L474.70,91.14 L474.61,91.54 L474.51,91.94 L474.42,92.35 L474.32,92.75 L474.23,93.15 L474.14,93.56 L474.04,93.96 L473.95,94.37 L473.85,94.77 L473.76,95.17 L473.66,95.58 L473.57,95.98 L473.47,96.38 L473.38,96.79 L473.28,97.19 L473.19,97.59 L473.09,98.00 L473.00,98.40" fill="none" stroke="#5db535" stroke-width="1.3" />
<path d="M479.00,49.80 L479.25,50.24 L479.50,50.68 L479.75,51.12 L480.00,51.56 L480.25,52.00 L480.50,52.44 L480.74,52.88 L480.97,53.33 L481.21,53.78 L481.44,54.22 L481.66,54.67 L481.88,55.13 L482.09,55.58 L482.30,56.04 L482.49,56.50 L482.69,56.96 L482.87,57.42 L483.05,57.89 L483.23,58.36 L483.39,58.83 L483.56,59.31 L483.71,59.78 L483.86,60.26 L484.01,60.74 L484.15,61.22 L484.29,61.70 L484.42,62.19 L484.55,62.67 L484.67,63.16 L484.79,63.65 L484.90,64.14 L485.01,64.64 L485.12,65.13 L485.23,65.63 L485.33,66.12 L485.42,66.62 L485.52,67.12 L485.61,67.62 L485.70,68.12 L485.78,68.62 L485.87,69.12 L485.95,69.63 L486.03,70.13 L486.11,70.63 L486.18,71.14 L486.26,71.64 L486.33,72.15 L486.41,72.65 L486.48,73.16 L486.55,73.67 L486.62,74.17 L486.69,74.68 L486.75,75.19 L486.82,75.69 L486.89,76.20 L486.96,76.70 L487.03,77.21 L487.10,77.71 L487.17,78.22 L487.24,78.72 L487.31,79.23 L487.38,79.73 L487.45,80.23 L487.52,80.74 L487.59,81.24 L487.66,81.74 L487.74,82.25 L487.81,82.75 L487.88,83.25 L487.96,83.75 L488.03,84.25 L488.10,84.75 L488.18,85.25 L488.25,85.75 L488.33,86.25 L488.40,86.75 L488.48,87.25 L488.55,87.75 L488.63,88.25 L488.71,88.75 L488.78,89.25 L488.86,89.75 L488.94,90.25 L489.01,90.75 L489.09,91.24 L489.17,91.74 L489.24,92.24 L489.32,92.74 L489.40,93.23 L489.48,93.73 L489.56,94.23 L489.64,94.72 L489.71,95.22 L489.79,95.72 L489.87,96.21 L489.95,96.71 L490.03,97.21 L490.11,97.70 L490.19,98.20 L490.27,98.69 L490.35,99.19 L490.43,99.69 L490.51,100.18 L490.59,100.68 L490.67,101.17 L490.75,101.67 L490.83,102.16 L490.91,102.66 L490.99,103.15 L491.07,103.65 L491.15,104.14 L491.23,104.64 L491.31,105.13 L491.40,105.63 L491.48,106.12 L491.56,106.62 L491.64,107.11 L491.72,107.61 L491.80,108.10" fill="none" stroke="#9a34b5" stroke-width="1.3" stroke-dasharray="3.8,1.4,1.9,1.4" />
<path d="M479.50,49.90 L479.80,50.32 L480.11,50.74 L480.41,51.16 L480.70,51.59 L480.99,52.01 L481.28,52.44 L481.56,52.87 L481.84,53.31 L482.11,53.75 L482.36,54.19 L482.61,54.64 L482.84,55.09 L483.07,55.55 L483.28,56.01 L483.48,56.48 L483.68,56.95 L483.86,57.43 L484.03,57.91 L484.20,58.40 L484.36,58.89 L484.51,59.38 L484.65,59.87 L484.79,60.37 L484.93,60.87 L485.06,61.37 L485.19,61.88 L485.31,62.38 L485.43,62.89 L485.55,63.39 L485.67,63.90 L485.79,64.41 L485.91,64.91 L486.03,65.42 L486.15,65.92 L486.27,66.43 L486.40,66.93 L486.52,67.43 L486.65,67.94 L486.77,68.44 L486.90,68.94 L487.03,69.44 L487.16,69.94 L487.30,70.44 L487.43,70.94 L487.56,71.43 L487.70,71.93 L487.83,72.43 L487.97,72.93 L488.10,73.42 L488.24,73.92 L488.38,74.41 L488.52,74.91 L488.66,75.40 L488.80,75.90 L488.94,76.39 L489.08,76.89 L489.22,77.38 L489.36,77.87 L489.50,78.37 L489.65,78.86 L489.79,79.35 L489.93,79.84 L490.07,80.34 L490.22,80.83 L490.36,81.32 L490.50,81.81 L490.65,82.31 L490.79,82.80 L490.93,83.29 L491.08,83.78 L491.22,84.28 L491.36,84.77 L491.50,85.26 L491.64,85.76 L491.79,86.25 L491.93,86.74 L492.07,87.24 L492.21,87.73 L492.35,88.22 L492.49,88.72 L492.63,89.21 L492.76,89.71 L492.90,90.20 L493.04,90.70 L493.18,91.19 L493.31,91.69 L493.45,92.18 L493.59,92.68 L493.72,93.17 L493.86,93.67 L493.99,94.17 L494.13,94.66 L494.26,95.16 L494.40,95.66 L494.53,96.15 L494.67,96.65 L494.80,97.15 L494.93,97.64 L495.07,98.14 L495.20,98.64 L495.33,99.13 L495.46,99.63 L495.60,100.13 L495.73,100.63 L495.86,101.13 L495.99,101.62 L496.13,102.12 L496.26,102.62 L496.39,103.12 L496.52,103.62 L496.65,104.11 L496.78,104.61 L496.91,105.11 L497.04,105.61 L497.18,106.11 L497.31,106.60 L497.44,107.10 L497.57,107.60 L497.70,108.10" fill="none" stroke="#fdb42a" stroke-width="1.3" stroke-dasharray="4.4,4.2" />
<path d="M478.20,49.70 L478.82,49.82 L479.43,49.95 L480.02,50.11 L480.59,50.31 L481.13,50.57 L481.64,50.89 L482.11,51.26 L482.56,51.69 L482.98,52.14 L483.38,52.63 L483.77,53.14 L484.14,53.65 L484.50,54.17 L484.85,54.70 L485.19,55.23 L485.52,55.75 L485.84,56.29 L486.16,56.82 L486.47,57.36 L486.77,57.90 L487.06,58.44 L487.34,58.99 L487.62,59.53 L487.89,60.08 L488.15,60.63 L488.41,61.18 L488.67,61.74 L488.91,62.30 L489.16,62.85 L489.40,63.41 L489.63,63.98 L489.86,64.54 L490.09,65.10 L490.31,65.67 L490.53,66.24 L490.75,66.81 L490.97,67.38 L491.18,67.95 L491.39,68.52 L491.60,69.09 L491.81,69.67 L492.02,70.24 L492.22,70.82 L492.42,71.39 L492.62,71.97 L492.82,72.55 L493.02,73.13 L493.22,73.71 L493.42,74.29 L493.61,74.87 L493.80,75.45 L494.00,76.03 L494.19,76.61 L494.38,77.20 L494.57,77.78 L494.76,78.36 L494.95,78.95 L495.14,79.53 L495.33,80.12 L495.51,80.70 L495.70,81.29 L495.89,81.87 L496.07,82.46 L496.26,83.04 L496.45,83.63 L496.64,84.22 L496.82,84.80 L497.01,85.39 L497.20,85.97 L497.38,86.56 L497.57,87.14 L497.76,87.73 L497.95,88.31 L498.14,88.90 L498.33,89.48 L498.52,90.07 L498.72,90.65 L498.91,91.23 L499.11,91.82 L499.30,92.40 L499.50,92.98 L499.69,93.56 L499.89,94.14 L500.09,94.72 L500.29,95.31 L500.49,95.89 L500.69,96.46 L500.89,97.04 L501.10,97.62 L501.30,98.20 L501.51,98.78 L501.71,99.36 L501.92,99.94 L502.12,100.51 L502.33,101.09 L502.54,101.67 L502.74,102.25 L502.95,102.82 L503.16,103.40 L503.37,103.98 L503.58,104.55 L503.79,105.13 L504.00,105.70 L504.21,106.28 L504.42,106.85 L504.63,107.43 L504.84,108.00 L505.06,108.58 L505.27,109.15 L505.48,109.73 L505.69,110.30 L505.91,110.88 L506.12,111.45 L506.33,112.03 L506.55,112.60 L506.76,113.18 L506.97,113.75 L507.19,114.33 L507.40,114.90" fill="none" stroke="#f7601f" stroke-width="1.3" />
<rect x="355.10" y="32.90" width="86.60" height="39.70" fill="#fff" stroke="#b4b4b4" stroke-width="1.3"/>
<path d="M357.70,40.00 L374.10,40.00" fill="none" stroke="#f7601f" stroke-width="1.3" />
<text transform="translate(376.60,41.70) skewX(-14)" font-size="7.8" font-style="italic" fill="#222" stroke="#222" stroke-width="0.12">ξ</text>
<text x="379.90" y="44.90" font-size="5.6" textLength="3.30" lengthAdjust="spacingAndGlyphs" stroke="#222" stroke-width="0.28">Z</text>
<text x="383.90" y="41.40" font-size="7.8" textLength="14.30" lengthAdjust="spacingAndGlyphs" stroke="#222" stroke-width="0.28">=-0.7</text>
<path d="M401.90,40.00 L418.30,40.00" fill="none" stroke="#5db535" stroke-width="1.3" />
<text transform="translate(420.80,41.70) skewX(-14)" font-size="7.8" font-style="italic" fill="#222" stroke="#222" stroke-width="0.12">ξ</text>
<text x="424.10" y="44.90" font-size="5.6" textLength="3.30" lengthAdjust="spacingAndGlyphs" stroke="#222" stroke-width="0.28">Z</text>
<text x="428.10" y="41.40" font-size="7.8" textLength="11.90" lengthAdjust="spacingAndGlyphs" stroke="#222" stroke-width="0.28">=0.3</text>
<path d="M357.70,52.80 L374.10,52.80" fill="none" stroke="#fdb42a" stroke-width="1.3" stroke-dasharray="4.4,4.2" />
<text transform="translate(376.60,54.50) skewX(-14)" font-size="7.8" font-style="italic" fill="#222" stroke="#222" stroke-width="0.12">ξ</text>
<text x="379.90" y="57.70" font-size="5.6" textLength="3.30" lengthAdjust="spacingAndGlyphs" stroke="#222" stroke-width="0.28">Z</text>
<text x="383.90" y="54.20" font-size="7.8" textLength="14.30" lengthAdjust="spacingAndGlyphs" stroke="#222" stroke-width="0.28">=-0.5</text>
<path d="M401.90,52.80 L418.30,52.80" fill="none" stroke="#27c0f0" stroke-width="1.3" stroke-dasharray="4.4,4.2" />
<text transform="translate(420.80,54.50) skewX(-14)" font-size="7.8" font-style="italic" fill="#222" stroke="#222" stroke-width="0.12">ξ</text>
<text x="424.10" y="57.70" font-size="5.6" textLength="3.30" lengthAdjust="spacingAndGlyphs" stroke="#222" stroke-width="0.28">Z</text>
<text x="428.10" y="54.20" font-size="7.8" textLength="11.90" lengthAdjust="spacingAndGlyphs" stroke="#222" stroke-width="0.28">=0.5</text>
<path d="M357.70,65.50 L374.10,65.50" fill="none" stroke="#9a34b5" stroke-width="1.3" stroke-dasharray="3.8,1.4,1.9,1.4" />
<text transform="translate(376.60,67.20) skewX(-14)" font-size="7.8" font-style="italic" fill="#222" stroke="#222" stroke-width="0.12">ξ</text>
<text x="379.90" y="70.40" font-size="5.6" textLength="3.30" lengthAdjust="spacingAndGlyphs" stroke="#222" stroke-width="0.28">Z</text>
<text x="383.90" y="66.90" font-size="7.8" textLength="14.30" lengthAdjust="spacingAndGlyphs" stroke="#222" stroke-width="0.28">=-0.3</text>
<path d="M401.90,65.50 L418.30,65.50" fill="none" stroke="#d1264a" stroke-width="1.3" stroke-dasharray="3.8,1.4,1.9,1.4" />
<text transform="translate(420.80,67.20) skewX(-14)" font-size="7.8" font-style="italic" fill="#222" stroke="#222" stroke-width="0.12">ξ</text>
<text x="424.10" y="70.40" font-size="5.6" textLength="3.30" lengthAdjust="spacingAndGlyphs" stroke="#222" stroke-width="0.28">Z</text>
<text x="428.10" y="66.90" font-size="7.8" textLength="11.90" lengthAdjust="spacingAndGlyphs" stroke="#222" stroke-width="0.28">=0.7</text>
<text x="389.90" y="90.60" font-size="7.4" font-weight="bold" textLength="40.70" lengthAdjust="spacingAndGlyphs">Uncontrolled</text>
<text x="389.90" y="99.70" font-size="7.4" font-weight="bold" textLength="21.40" lengthAdjust="spacingAndGlyphs">section</text>
<line x1="416.80" y1="96.20" x2="441.09" y2="105.06" stroke="#000" stroke-width="0.6" />
<path d="M445.30,106.60 L439.25,106.84 L441.09,105.06 L440.83,102.52 Z" fill="#000"/>
<text x="379.5" y="192" font-size="11.4" fill="#1a1a1a" stroke="#1a1a1a" stroke-width="0.12" textLength="111.9" lengthAdjust="spacingAndGlyphs">(<tspan font-weight="bold">b</tspan>) Trajectory vs. LCEC</text>
<line x1="79.70" y1="217.90" x2="79.70" y2="361.70" stroke="#e6e6e6" stroke-width="0.5" />
<line x1="126.10" y1="217.90" x2="126.10" y2="361.70" stroke="#e6e6e6" stroke-width="0.5" />
<line x1="172.50" y1="217.90" x2="172.50" y2="361.70" stroke="#e6e6e6" stroke-width="0.5" />
<line x1="33.30" y1="337.73" x2="218.90" y2="337.73" stroke="#e6e6e6" stroke-width="0.5" />
<line x1="33.30" y1="313.77" x2="218.90" y2="313.77" stroke="#e6e6e6" stroke-width="0.5" />
<line x1="33.30" y1="289.80" x2="218.90" y2="289.80" stroke="#e6e6e6" stroke-width="0.5" />
<line x1="33.30" y1="265.83" x2="218.90" y2="265.83" stroke="#e6e6e6" stroke-width="0.5" />
<line x1="33.30" y1="241.87" x2="218.90" y2="241.87" stroke="#e6e6e6" stroke-width="0.5" />
<rect x="33.30" y="217.90" width="185.60" height="143.80" fill="none" stroke="#b0b0b0" stroke-width="0.9"/>
<line x1="33.30" y1="361.70" x2="35.10" y2="361.70" stroke="#b0b0b0" stroke-width="0.8" />
<line x1="218.90" y1="361.70" x2="217.10" y2="361.70" stroke="#b0b0b0" stroke-width="0.8" />
<line x1="33.30" y1="337.73" x2="35.10" y2="337.73" stroke="#b0b0b0" stroke-width="0.8" />
<line x1="218.90" y1="337.73" x2="217.10" y2="337.73" stroke="#b0b0b0" stroke-width="0.8" />
<line x1="33.30" y1="313.77" x2="35.10" y2="313.77" stroke="#b0b0b0" stroke-width="0.8" />
<line x1="218.90" y1="313.77" x2="217.10" y2="313.77" stroke="#b0b0b0" stroke-width="0.8" />
<line x1="33.30" y1="289.80" x2="35.10" y2="289.80" stroke="#b0b0b0" stroke-width="0.8" />
<line x1="218.90" y1="289.80" x2="217.10" y2="289.80" stroke="#b0b0b0" stroke-width="0.8" />
<line x1="33.30" y1="265.83" x2="35.10" y2="265.83" stroke="#b0b0b0" stroke-width="0.8" />
<line x1="218.90" y1="265.83" x2="217.10" y2="265.83" stroke="#b0b0b0" stroke-width="0.8" />
<line x1="33.30" y1="241.87" x2="35.10" y2="241.87" stroke="#b0b0b0" stroke-width="0.8" />
<line x1="218.90" y1="241.87" x2="217.10" y2="241.87" stroke="#b0b0b0" stroke-width="0.8" />
<line x1="33.30" y1="217.90" x2="35.10" y2="217.90" stroke="#b0b0b0" stroke-width="0.8" />
<line x1="218.90" y1="217.90" x2="217.10" y2="217.90" stroke="#b0b0b0" stroke-width="0.8" />
<line x1="33.30" y1="361.70" x2="33.30" y2="359.90" stroke="#b0b0b0" stroke-width="0.8" />
<line x1="33.30" y1="217.90" x2="33.30" y2="219.70" stroke="#b0b0b0" stroke-width="0.8" />
<line x1="79.70" y1="361.70" x2="79.70" y2="359.90" stroke="#b0b0b0" stroke-width="0.8" />
<line x1="79.70" y1="217.90" x2="79.70" y2="219.70" stroke="#b0b0b0" stroke-width="0.8" />
<line x1="126.10" y1="361.70" x2="126.10" y2="359.90" stroke="#b0b0b0" stroke-width="0.8" />
<line x1="126.10" y1="217.90" x2="126.10" y2="219.70" stroke="#b0b0b0" stroke-width="0.8" />
<line x1="172.50" y1="361.70" x2="172.50" y2="359.90" stroke="#b0b0b0" stroke-width="0.8" />
<line x1="172.50" y1="217.90" x2="172.50" y2="219.70" stroke="#b0b0b0" stroke-width="0.8" />
<line x1="218.90" y1="361.70" x2="218.90" y2="359.90" stroke="#b0b0b0" stroke-width="0.8" />
<line x1="218.90" y1="217.90" x2="218.90" y2="219.70" stroke="#b0b0b0" stroke-width="0.8" />
<text x="30.10" y="365.00" font-size="7.7" font-weight="bold" text-anchor="end">200</text>
<text x="30.10" y="341.03" font-size="7.7" font-weight="bold" text-anchor="end">300</text>
<text x="30.10" y="317.07" font-size="7.7" font-weight="bold" text-anchor="end">400</text>
<text x="30.10" y="293.10" font-size="7.7" font-weight="bold" text-anchor="end">500</text>
<text x="30.10" y="269.13" font-size="7.7" font-weight="bold" text-anchor="end">600</text>
<text x="30.10" y="245.17" font-size="7.7" font-weight="bold" text-anchor="end">700</text>
<text x="30.10" y="221.20" font-size="7.7" font-weight="bold" text-anchor="end">800</text>
<text x="33.30" y="372.50" font-size="7.7" font-weight="bold" text-anchor="middle">0</text>
<text x="79.70" y="372.50" font-size="7.7" font-weight="bold" text-anchor="middle">20</text>
<text x="126.10" y="372.50" font-size="7.7" font-weight="bold" text-anchor="middle">40</text>
<text x="172.50" y="372.50" font-size="7.7" font-weight="bold" text-anchor="middle">60</text>
<text x="218.90" y="372.50" font-size="7.7" font-weight="bold" text-anchor="middle">80</text>
<path d="M33.30,237.36 L33.80,239.39 L34.30,241.40 L34.80,243.37 L35.31,245.31 L35.81,247.22 L36.31,249.10 L36.81,250.96 L37.31,252.78 L37.81,254.57 L38.31,256.34 L38.82,258.08 L39.32,259.79 L39.82,261.47 L40.32,263.13 L40.82,264.76 L41.32,266.37 L41.82,267.96 L42.32,269.51 L42.83,271.05 L43.33,272.56 L43.83,274.05 L44.33,275.52 L44.83,276.96 L45.33,278.39 L45.83,279.79 L46.34,281.17 L46.84,282.53 L47.34,283.88 L47.84,285.20 L48.34,286.50 L48.84,287.79 L49.34,289.06 L49.85,290.31 L50.35,291.54 L50.85,292.76 L51.35,293.95 L51.85,295.14 L52.35,296.30 L52.85,297.45 L53.35,298.58 L53.86,299.70 L54.36,300.80 L54.86,301.88 L55.36,302.95 L55.86,304.00 L56.36,305.04 L56.86,306.06 L57.37,307.07 L57.87,308.06 L58.37,309.03 L58.87,309.99 L59.37,310.94 L59.87,311.87 L60.37,312.78 L60.88,313.68 L61.38,314.57 L61.88,315.43 L62.38,316.29 L62.88,317.13 L63.38,317.95 L63.88,318.76 L64.38,319.55 L64.89,320.33 L65.39,321.10 L65.89,321.85 L66.39,322.58 L66.89,323.31 L67.39,324.01 L67.89,324.71 L68.40,325.39 L68.90,326.06 L69.40,326.72 L69.90,327.36 L70.40,327.99 L70.90,328.61 L71.40,329.22 L71.91,329.81 L72.41,330.40 L72.91,330.97 L73.41,331.53 L73.91,332.08 L74.41,332.61 L74.91,333.14 L75.42,333.66 L75.92,334.17 L76.42,334.66 L76.92,335.15 L77.42,335.63 L77.92,336.09 L78.42,336.55 L78.92,337.00 L79.43,337.44 L79.93,337.87 L80.43,338.29 L80.93,338.71 L81.43,339.11 L81.93,339.51 L82.43,339.90 L82.94,340.28 L83.44,340.65 L83.94,341.02 L84.44,341.38 L84.94,341.73 L85.44,342.07 L85.94,342.40 L86.45,342.73 L86.95,343.05 L87.45,343.36 L87.95,343.67 L88.45,343.96 L88.95,344.25 L89.45,344.54 L89.95,344.81 L90.46,345.08 L90.96,345.34 L91.46,345.59 L91.96,345.84 L92.46,346.08 L92.96,346.31 L93.46,346.54 L93.97,346.76 L94.47,346.97 L94.97,347.18 L95.47,347.38 L95.97,347.57 L96.47,347.75 L96.97,347.93 L97.48,348.11 L97.98,348.27 L98.48,348.44 L98.98,348.59 L99.48,348.74 L99.98,348.88 L100.48,349.02 L100.98,349.15 L101.49,349.27 L101.99,349.39 L102.49,349.50 L102.99,349.61 L103.49,349.71 L103.99,349.81 L104.49,349.90 L105.00,349.98 L105.50,350.06 L106.00,350.13 L106.50,350.20 L107.00,350.27 L107.50,350.32 L108.00,350.38" fill="none" stroke="#111" stroke-width="1.35" />
<path d="M108.00,350.38 L108.61,350.43 L109.21,350.48 L109.81,350.52 L110.41,350.56 L111.01,350.59 L111.61,350.61 L112.21,350.62 L112.81,350.63 L113.41,350.63 L114.01,350.62 L114.62,350.61 L115.22,350.59 L115.82,350.57 L116.42,350.54 L117.02,350.50 L117.62,350.46 L118.22,350.41 L118.82,350.36 L119.42,350.30 L120.02,350.23 L120.63,350.16 L121.23,350.09 L121.83,350.01 L122.43,349.92 L123.03,349.83 L123.63,349.73 L124.23,349.63 L124.83,349.53 L125.43,349.42 L126.03,349.30 L126.64,349.18 L127.24,349.06 L127.84,348.93 L128.44,348.80 L129.04,348.67 L129.64,348.53 L130.24,348.38 L130.84,348.24 L131.44,348.09 L132.04,347.93 L132.65,347.77 L133.25,347.61 L133.85,347.45 L134.45,347.28 L135.05,347.11 L135.65,346.94 L136.25,346.76 L136.85,346.58 L137.45,346.40 L138.06,346.22 L138.66,346.03 L139.26,345.84 L139.86,345.65 L140.46,345.46 L141.06,345.26 L141.66,345.06 L142.26,344.86 L142.86,344.66 L143.46,344.46 L144.07,344.26 L144.67,344.05 L145.27,343.84 L145.87,343.63 L146.47,343.43 L147.07,343.21 L147.67,343.00 L148.27,342.79 L148.87,342.58 L149.47,342.36 L150.08,342.15 L150.68,341.93 L151.28,341.72 L151.88,341.50 L152.48,341.29 L153.08,341.07 L153.68,340.86 L154.28,340.64 L154.88,340.42 L155.48,340.21 L156.09,339.99 L156.69,339.78 L157.29,339.57 L157.89,339.35 L158.49,339.14 L159.09,338.93 L159.69,338.72 L160.29,338.51 L160.89,338.30 L161.49,338.09 L162.10,337.89 L162.70,337.68 L163.30,337.48 L163.90,337.28 L164.50,337.08 L165.10,336.88 L165.70,336.69 L166.30,336.50 L166.90,336.31 L167.50,336.12 L168.11,335.93 L168.71,335.75 L169.31,335.57 L169.91,335.39 L170.51,335.21 L171.11,335.04 L171.71,334.87 L172.31,334.70 L172.91,334.54 L173.52,334.38 L174.12,334.22 L174.72,334.07 L175.32,333.91 L175.92,333.77 L176.52,333.63 L177.12,333.49 L177.72,333.35 L178.32,333.22 L178.92,333.09 L179.53,332.97 L180.13,332.85 L180.73,332.74 L181.33,332.63 L181.93,332.52 L182.53,332.42 L183.13,332.33 L183.73,332.24 L184.33,332.15 L184.93,332.07 L185.54,332.00 L186.14,331.93 L186.74,331.86 L187.34,331.81 L187.94,331.75 L188.54,331.71 L189.14,331.66 L189.74,331.63 L190.34,331.60 L190.94,331.57 L191.55,331.56 L192.15,331.55 L192.75,331.54 L193.35,331.54 L193.95,331.55 L194.55,331.57 L195.15,331.59 L195.75,331.62 L196.35,331.65 L196.95,331.70 L197.56,331.75" fill="none" stroke="#f7601f" stroke-width="1.3" />
<path d="M108.00,350.23 L108.61,350.28 L109.21,350.33 L109.81,350.37 L110.41,350.41 L111.01,350.44 L111.61,350.46 L112.21,350.47 L112.81,350.48 L113.41,350.48 L114.01,350.47 L114.62,350.46 L115.22,350.44 L115.82,350.42 L116.42,350.39 L117.02,350.35 L117.62,350.31 L118.22,350.26 L118.82,350.21 L119.42,350.15 L120.02,350.08 L120.63,350.01 L121.23,349.94 L121.83,349.86 L122.43,349.77 L123.03,349.68 L123.63,349.58 L124.23,349.48 L124.83,349.38 L125.43,349.27 L126.03,349.15 L126.64,349.03 L127.24,348.91 L127.84,348.78 L128.44,348.65 L129.04,348.52 L129.64,348.38 L130.24,348.23 L130.84,348.09 L131.44,347.94 L132.04,347.78 L132.65,347.62 L133.25,347.46 L133.85,347.30 L134.45,347.13 L135.05,346.96 L135.65,346.79 L136.25,346.61 L136.85,346.43 L137.45,346.25 L138.06,346.07 L138.66,345.88 L139.26,345.69 L139.86,345.50 L140.46,345.31 L141.06,345.11 L141.66,344.91 L142.26,344.71 L142.86,344.51 L143.46,344.31 L144.07,344.11 L144.67,343.90 L145.27,343.69 L145.87,343.48 L146.47,343.28 L147.07,343.06 L147.67,342.85 L148.27,342.64 L148.87,342.43 L149.47,342.21 L150.08,342.00 L150.68,341.78 L151.28,341.57 L151.88,341.35 L152.48,341.14 L153.08,340.92 L153.68,340.71 L154.28,340.49 L154.88,340.27 L155.48,340.06 L156.09,339.84 L156.69,339.63 L157.29,339.42 L157.89,339.20 L158.49,338.99 L159.09,338.78 L159.69,338.57 L160.29,338.36 L160.89,338.15 L161.49,337.94 L162.10,337.74 L162.70,337.53 L163.30,337.33 L163.90,337.13 L164.50,336.93 L165.10,336.73 L165.70,336.54 L166.30,336.35 L166.90,336.16 L167.50,335.97 L168.11,335.78 L168.71,335.60 L169.31,335.42 L169.91,335.24 L170.51,335.06 L171.11,334.89 L171.71,334.72 L172.31,334.55 L172.91,334.39 L173.52,334.23 L174.12,334.07 L174.72,333.92 L175.32,333.76 L175.92,333.62 L176.52,333.48 L177.12,333.34 L177.72,333.20 L178.32,333.07 L178.92,332.94 L179.53,332.82 L180.13,332.70 L180.73,332.59 L181.33,332.48 L181.93,332.37 L182.53,332.27 L183.13,332.18 L183.73,332.09 L184.33,332.00 L184.93,331.92 L185.54,331.85 L186.14,331.78 L186.74,331.71 L187.34,331.66 L187.94,331.60 L188.54,331.56 L189.14,331.51 L189.74,331.48 L190.34,331.45 L190.94,331.42 L191.55,331.41 L192.15,331.40 L192.75,331.39 L193.35,331.39 L193.95,331.40 L194.55,331.42 L195.15,331.44 L195.75,331.47 L196.35,331.50 L196.95,331.55 L197.56,331.60" fill="none" stroke="#5db535" stroke-width="1.3" />
<path d="M108.00,350.08 L108.61,350.13 L109.21,350.18 L109.81,350.22 L110.41,350.26 L111.01,350.29 L111.61,350.31 L112.21,350.32 L112.81,350.33 L113.41,350.33 L114.01,350.32 L114.62,350.31 L115.22,350.29 L115.82,350.27 L116.42,350.24 L117.02,350.20 L117.62,350.16 L118.22,350.11 L118.82,350.06 L119.42,350.00 L120.02,349.93 L120.63,349.86 L121.23,349.79 L121.83,349.71 L122.43,349.62 L123.03,349.53 L123.63,349.43 L124.23,349.33 L124.83,349.23 L125.43,349.12 L126.03,349.00 L126.64,348.88 L127.24,348.76 L127.84,348.63 L128.44,348.50 L129.04,348.37 L129.64,348.23 L130.24,348.08 L130.84,347.94 L131.44,347.79 L132.04,347.63 L132.65,347.47 L133.25,347.31 L133.85,347.15 L134.45,346.98 L135.05,346.81 L135.65,346.64 L136.25,346.46 L136.85,346.28 L137.45,346.10 L138.06,345.92 L138.66,345.73 L139.26,345.54 L139.86,345.35 L140.46,345.16 L141.06,344.96 L141.66,344.76 L142.26,344.56 L142.86,344.36 L143.46,344.16 L144.07,343.96 L144.67,343.75 L145.27,343.54 L145.87,343.33 L146.47,343.13 L147.07,342.91 L147.67,342.70 L148.27,342.49 L148.87,342.28 L149.47,342.06 L150.08,341.85 L150.68,341.63 L151.28,341.42 L151.88,341.20 L152.48,340.99 L153.08,340.77 L153.68,340.56 L154.28,340.34 L154.88,340.12 L155.48,339.91 L156.09,339.69 L156.69,339.48 L157.29,339.27 L157.89,339.05 L158.49,338.84 L159.09,338.63 L159.69,338.42 L160.29,338.21 L160.89,338.00 L161.49,337.79 L162.10,337.59 L162.70,337.38 L163.30,337.18 L163.90,336.98 L164.50,336.78 L165.10,336.58 L165.70,336.39 L166.30,336.20 L166.90,336.01 L167.50,335.82 L168.11,335.63 L168.71,335.45 L169.31,335.27 L169.91,335.09 L170.51,334.91 L171.11,334.74 L171.71,334.57 L172.31,334.40 L172.91,334.24 L173.52,334.08 L174.12,333.92 L174.72,333.77 L175.32,333.61 L175.92,333.47 L176.52,333.33 L177.12,333.19 L177.72,333.05 L178.32,332.92 L178.92,332.79 L179.53,332.67 L180.13,332.55 L180.73,332.44 L181.33,332.33 L181.93,332.22 L182.53,332.12 L183.13,332.03 L183.73,331.94 L184.33,331.85 L184.93,331.77 L185.54,331.70 L186.14,331.63 L186.74,331.56 L187.34,331.51 L187.94,331.45 L188.54,331.41 L189.14,331.36 L189.74,331.33 L190.34,331.30 L190.94,331.27 L191.55,331.26 L192.15,331.25 L192.75,331.24 L193.35,331.24 L193.95,331.25 L194.55,331.27 L195.15,331.29 L195.75,331.32 L196.35,331.35 L196.95,331.40 L197.56,331.45" fill="none" stroke="#27c0f0" stroke-width="1.3" stroke-dasharray="4.4,4.2" />
<path d="M108.00,350.68 L108.61,350.73 L109.21,350.78 L109.81,350.82 L110.41,350.86 L111.01,350.89 L111.61,350.91 L112.21,350.92 L112.81,350.93 L113.41,350.93 L114.01,350.92 L114.62,350.91 L115.22,350.89 L115.82,350.87 L116.42,350.84 L117.02,350.80 L117.62,350.76 L118.22,350.71 L118.82,350.66 L119.42,350.60 L120.02,350.53 L120.63,350.46 L121.23,350.39 L121.83,350.31 L122.43,350.22 L123.03,350.13 L123.63,350.03 L124.23,349.93 L124.83,349.83 L125.43,349.72 L126.03,349.60 L126.64,349.48 L127.24,349.36 L127.84,349.23 L128.44,349.10 L129.04,348.97 L129.64,348.83 L130.24,348.68 L130.84,348.54 L131.44,348.39 L132.04,348.23 L132.65,348.07 L133.25,347.91 L133.85,347.75 L134.45,347.58 L135.05,347.41 L135.65,347.24 L136.25,347.06 L136.85,346.88 L137.45,346.70 L138.06,346.52 L138.66,346.33 L139.26,346.14 L139.86,345.95 L140.46,345.76 L141.06,345.56 L141.66,345.36 L142.26,345.16 L142.86,344.96 L143.46,344.76 L144.07,344.56 L144.67,344.35 L145.27,344.14 L145.87,343.93 L146.47,343.73 L147.07,343.51 L147.67,343.30 L148.27,343.09 L148.87,342.88 L149.47,342.66 L150.08,342.45 L150.68,342.23 L151.28,342.02 L151.88,341.80 L152.48,341.59 L153.08,341.37 L153.68,341.16 L154.28,340.94 L154.88,340.72 L155.48,340.51 L156.09,340.29 L156.69,340.08 L157.29,339.87 L157.89,339.65 L158.49,339.44 L159.09,339.23 L159.69,339.02 L160.29,338.81 L160.89,338.60 L161.49,338.39 L162.10,338.19 L162.70,337.98 L163.30,337.78 L163.90,337.58 L164.50,337.38 L165.10,337.18 L165.70,336.99 L166.30,336.80 L166.90,336.61 L167.50,336.42 L168.11,336.23 L168.71,336.05 L169.31,335.87 L169.91,335.69 L170.51,335.51 L171.11,335.34 L171.71,335.17 L172.31,335.00 L172.91,334.84 L173.52,334.68 L174.12,334.52 L174.72,334.37 L175.32,334.21 L175.92,334.07 L176.52,333.93 L177.12,333.79 L177.72,333.65 L178.32,333.52 L178.92,333.39 L179.53,333.27 L180.13,333.15 L180.73,333.04 L181.33,332.93 L181.93,332.82 L182.53,332.72 L183.13,332.63 L183.73,332.54 L184.33,332.45 L184.93,332.37 L185.54,332.30 L186.14,332.23 L186.74,332.16 L187.34,332.11 L187.94,332.05 L188.54,332.01 L189.14,331.96 L189.74,331.93 L190.34,331.90 L190.94,331.87 L191.55,331.86 L192.15,331.85 L192.75,331.84 L193.35,331.84 L193.95,331.85 L194.55,331.87 L195.15,331.89 L195.75,331.92 L196.35,331.95 L196.95,332.00 L197.56,332.05" fill="none" stroke="#9a34b5" stroke-width="1.3" stroke-dasharray="3.8,1.4,1.9,1.4" />
<path d="M108.00,350.53 L108.61,350.58 L109.21,350.63 L109.81,350.67 L110.41,350.71 L111.01,350.74 L111.61,350.76 L112.21,350.77 L112.81,350.78 L113.41,350.78 L114.01,350.77 L114.62,350.76 L115.22,350.74 L115.82,350.72 L116.42,350.69 L117.02,350.65 L117.62,350.61 L118.22,350.56 L118.82,350.51 L119.42,350.45 L120.02,350.38 L120.63,350.31 L121.23,350.24 L121.83,350.16 L122.43,350.07 L123.03,349.98 L123.63,349.88 L124.23,349.78 L124.83,349.68 L125.43,349.57 L126.03,349.45 L126.64,349.33 L127.24,349.21 L127.84,349.08 L128.44,348.95 L129.04,348.82 L129.64,348.68 L130.24,348.53 L130.84,348.39 L131.44,348.24 L132.04,348.08 L132.65,347.92 L133.25,347.76 L133.85,347.60 L134.45,347.43 L135.05,347.26 L135.65,347.09 L136.25,346.91 L136.85,346.73 L137.45,346.55 L138.06,346.37 L138.66,346.18 L139.26,345.99 L139.86,345.80 L140.46,345.61 L141.06,345.41 L141.66,345.21 L142.26,345.01 L142.86,344.81 L143.46,344.61 L144.07,344.41 L144.67,344.20 L145.27,343.99 L145.87,343.78 L146.47,343.58 L147.07,343.36 L147.67,343.15 L148.27,342.94 L148.87,342.73 L149.47,342.51 L150.08,342.30 L150.68,342.08 L151.28,341.87 L151.88,341.65 L152.48,341.44 L153.08,341.22 L153.68,341.01 L154.28,340.79 L154.88,340.57 L155.48,340.36 L156.09,340.14 L156.69,339.93 L157.29,339.72 L157.89,339.50 L158.49,339.29 L159.09,339.08 L159.69,338.87 L160.29,338.66 L160.89,338.45 L161.49,338.24 L162.10,338.04 L162.70,337.83 L163.30,337.63 L163.90,337.43 L164.50,337.23 L165.10,337.03 L165.70,336.84 L166.30,336.65 L166.90,336.46 L167.50,336.27 L168.11,336.08 L168.71,335.90 L169.31,335.72 L169.91,335.54 L170.51,335.36 L171.11,335.19 L171.71,335.02 L172.31,334.85 L172.91,334.69 L173.52,334.53 L174.12,334.37 L174.72,334.22 L175.32,334.06 L175.92,333.92 L176.52,333.78 L177.12,333.64 L177.72,333.50 L178.32,333.37 L178.92,333.24 L179.53,333.12 L180.13,333.00 L180.73,332.89 L181.33,332.78 L181.93,332.67 L182.53,332.57 L183.13,332.48 L183.73,332.39 L184.33,332.30 L184.93,332.22 L185.54,332.15 L186.14,332.08 L186.74,332.01 L187.34,331.96 L187.94,331.90 L188.54,331.86 L189.14,331.81 L189.74,331.78 L190.34,331.75 L190.94,331.72 L191.55,331.71 L192.15,331.70 L192.75,331.69 L193.35,331.69 L193.95,331.70 L194.55,331.72 L195.15,331.74 L195.75,331.77 L196.35,331.80 L196.95,331.85 L197.56,331.90" fill="none" stroke="#fdb42a" stroke-width="1.3" stroke-dasharray="4.4,4.2" />
<path d="M108.00,350.43 L108.61,350.48 L109.21,350.53 L109.81,350.57 L110.41,350.61 L111.01,350.64 L111.61,350.66 L112.21,350.67 L112.81,350.68 L113.41,350.68 L114.01,350.67 L114.62,350.66 L115.22,350.64 L115.82,350.62 L116.42,350.59 L117.02,350.55 L117.62,350.51 L118.22,350.46 L118.82,350.41 L119.42,350.35 L120.02,350.28 L120.63,350.21 L121.23,350.14 L121.83,350.06 L122.43,349.97 L123.03,349.88 L123.63,349.78 L124.23,349.68 L124.83,349.58 L125.43,349.47 L126.03,349.35 L126.64,349.23 L127.24,349.11 L127.84,348.98 L128.44,348.85 L129.04,348.72 L129.64,348.58 L130.24,348.43 L130.84,348.29 L131.44,348.14 L132.04,347.98 L132.65,347.82 L133.25,347.66 L133.85,347.50 L134.45,347.33 L135.05,347.16 L135.65,346.99 L136.25,346.81 L136.85,346.63 L137.45,346.45 L138.06,346.27 L138.66,346.08 L139.26,345.89 L139.86,345.70 L140.46,345.51 L141.06,345.31 L141.66,345.11 L142.26,344.91 L142.86,344.71 L143.46,344.51 L144.07,344.31 L144.67,344.10 L145.27,343.89 L145.87,343.68 L146.47,343.48 L147.07,343.26 L147.67,343.05 L148.27,342.84 L148.87,342.63 L149.47,342.41 L150.08,342.20 L150.68,341.98 L151.28,341.77 L151.88,341.55 L152.48,341.34 L153.08,341.12 L153.68,340.91 L154.28,340.69 L154.88,340.47 L155.48,340.26 L156.09,340.04 L156.69,339.83 L157.29,339.62 L157.89,339.40 L158.49,339.19 L159.09,338.98 L159.69,338.77 L160.29,338.56 L160.89,338.35 L161.49,338.14 L162.10,337.94 L162.70,337.73 L163.30,337.53 L163.90,337.33 L164.50,337.13 L165.10,336.93 L165.70,336.74 L166.30,336.55 L166.90,336.36 L167.50,336.17 L168.11,335.98 L168.71,335.80 L169.31,335.62 L169.91,335.44 L170.51,335.26 L171.11,335.09 L171.71,334.92 L172.31,334.75 L172.91,334.59 L173.52,334.43 L174.12,334.27 L174.72,334.12 L175.32,333.96 L175.92,333.82 L176.52,333.68 L177.12,333.54 L177.72,333.40 L178.32,333.27 L178.92,333.14 L179.53,333.02 L180.13,332.90 L180.73,332.79 L181.33,332.68 L181.93,332.57 L182.53,332.47 L183.13,332.38 L183.73,332.29 L184.33,332.20 L184.93,332.12 L185.54,332.05 L186.14,331.98 L186.74,331.91 L187.34,331.86 L187.94,331.80 L188.54,331.76 L189.14,331.71 L189.74,331.68 L190.34,331.65 L190.94,331.62 L191.55,331.61 L192.15,331.60 L192.75,331.59 L193.35,331.59 L193.95,331.60 L194.55,331.62 L195.15,331.64 L195.75,331.67 L196.35,331.70 L196.95,331.75 L197.56,331.80" fill="none" stroke="#d1264a" stroke-width="1.3" stroke-dasharray="3.8,1.4,1.9,1.4" />
<rect x="182.70" y="324.40" width="21.60" height="18.00" fill="none" stroke="#a0a0a0" stroke-width="0.8"/>
<rect x="125.20" y="222.20" width="89.50" height="37.00" fill="#fff" stroke="#b4b4b4" stroke-width="1.3"/>
<path d="M127.20,228.70 L144.20,228.70" fill="none" stroke="#f7601f" stroke-width="1.8" />
<text transform="translate(146.20,230.40) skewX(-14)" font-size="7.8" font-style="italic" fill="#222" stroke="#222" stroke-width="0.12">ξ</text>
<text x="150.10" y="233.60" font-size="5.4" font-weight="bold" stroke="#222" stroke-width="0.15">V</text>
<text x="153.30" y="230.10" font-size="7.4" font-weight="bold" textLength="15.30" lengthAdjust="spacingAndGlyphs" stroke="#222" stroke-width="0.15">=-0.7</text>
<path d="M173.40,228.70 L189.90,228.70" fill="none" stroke="#5db535" stroke-width="1.8" />
<text transform="translate(192.20,230.40) skewX(-14)" font-size="7.8" font-style="italic" fill="#222" stroke="#222" stroke-width="0.12">ξ</text>
<text x="196.10" y="233.60" font-size="5.4" font-weight="bold" stroke="#222" stroke-width="0.15">V</text>
<text x="199.30" y="230.10" font-size="7.4" font-weight="bold" textLength="13.00" lengthAdjust="spacingAndGlyphs" stroke="#222" stroke-width="0.15">=0.3</text>
<path d="M127.20,240.90 L144.20,240.90" fill="none" stroke="#fdb42a" stroke-width="1.8" stroke-dasharray="4.4,4.2" />
<text transform="translate(146.20,242.60) skewX(-14)" font-size="7.8" font-style="italic" fill="#222" stroke="#222" stroke-width="0.12">ξ</text>
<text x="150.10" y="245.80" font-size="5.4" font-weight="bold" stroke="#222" stroke-width="0.15">V</text>
<text x="153.30" y="242.30" font-size="7.4" font-weight="bold" textLength="15.30" lengthAdjust="spacingAndGlyphs" stroke="#222" stroke-width="0.15">=-0.5</text>
<path d="M173.40,240.90 L189.90,240.90" fill="none" stroke="#27c0f0" stroke-width="1.8" stroke-dasharray="4.4,4.2" />
<text transform="translate(192.20,242.60) skewX(-14)" font-size="7.8" font-style="italic" fill="#222" stroke="#222" stroke-width="0.12">ξ</text>
<text x="196.10" y="245.80" font-size="5.4" font-weight="bold" stroke="#222" stroke-width="0.15">V</text>
<text x="199.30" y="242.30" font-size="7.4" font-weight="bold" textLength="13.00" lengthAdjust="spacingAndGlyphs" stroke="#222" stroke-width="0.15">=0.5</text>
<path d="M127.20,252.50 L144.20,252.50" fill="none" stroke="#9a34b5" stroke-width="1.8" stroke-dasharray="3.8,1.4,1.9,1.4" />
<text transform="translate(146.20,254.20) skewX(-14)" font-size="7.8" font-style="italic" fill="#222" stroke="#222" stroke-width="0.12">ξ</text>
<text x="150.10" y="257.40" font-size="5.4" font-weight="bold" stroke="#222" stroke-width="0.15">V</text>
<text x="153.30" y="253.90" font-size="7.4" font-weight="bold" textLength="15.30" lengthAdjust="spacingAndGlyphs" stroke="#222" stroke-width="0.15">=-0.3</text>
<path d="M173.40,252.50 L189.90,252.50" fill="none" stroke="#d1264a" stroke-width="1.8" stroke-dasharray="3.8,1.4,1.9,1.4" />
<text transform="translate(192.20,254.20) skewX(-14)" font-size="7.8" font-style="italic" fill="#222" stroke="#222" stroke-width="0.12">ξ</text>
<text x="196.10" y="257.40" font-size="5.4" font-weight="bold" stroke="#222" stroke-width="0.15">V</text>
<text x="199.30" y="253.90" font-size="7.4" font-weight="bold" textLength="13.00" lengthAdjust="spacingAndGlyphs" stroke="#222" stroke-width="0.15">=0.7</text>
<text x="63.70" y="251.40" font-size="7.4" font-weight="bold" textLength="41.30" lengthAdjust="spacingAndGlyphs">Uncontrolled</text>
<text x="63.70" y="260.90" font-size="7.4" font-weight="bold" textLength="21.50" lengthAdjust="spacingAndGlyphs">section</text>
<line x1="71.30" y1="262.50" x2="50.62" y2="278.73" stroke="#000" stroke-width="0.6" />
<path d="M47.10,281.50 L50.08,276.23 L50.62,278.73 L52.92,279.85 Z" fill="#000"/>
<rect x="98.10" y="266.20" width="65.80" height="50.20" fill="#fff" stroke="#a6a6a6" stroke-width="0.9"/>
<line x1="109.10" y1="266.20" x2="109.10" y2="316.40" stroke="#e6e6e6" stroke-width="0.5" />
<line x1="129.60" y1="266.20" x2="129.60" y2="316.40" stroke="#e6e6e6" stroke-width="0.5" />
<line x1="149.80" y1="266.20" x2="149.80" y2="316.40" stroke="#e6e6e6" stroke-width="0.5" />
<line x1="98.10" y1="292.00" x2="163.90" y2="292.00" stroke="#e6e6e6" stroke-width="0.5" />
<path d="M98.1,302.3 Q120.4,285.2 142.7,276.8" fill="none" stroke="#f7601f" stroke-width="1.4"/>
<path d="M98.1,304.1 Q122,286.5 145.8,278.2" fill="none" stroke="#fdb42a" stroke-width="1.4" stroke-dasharray="4.4,4.2"/>
<path d="M98.1,307.9 Q122.7,290.0 147.3,279.7" fill="none" stroke="#9a34b5" stroke-width="1.4" stroke-dasharray="3.8,1.4,1.9,1.4"/>
<path d="M98.1,316.0 Q125.8,294.5 153.6,283.2" fill="none" stroke="#5db535" stroke-width="1.4"/>
<path d="M100.0,316.4 Q128.5,295.5 156.9,284.2" fill="none" stroke="#27c0f0" stroke-width="1.4" stroke-dasharray="4.4,4.2"/>
<path d="M104.9,316.4 Q132.3,297.5 159.7,286.0" fill="none" stroke="#d1264a" stroke-width="1.4" stroke-dasharray="3.8,1.4,1.9,1.4"/>
<rect x="98.1" y="266.2" width="65.8" height="50.2" fill="none" stroke="#a6a6a6" stroke-width="0.9"/>
<text x="96.60" y="271.80" font-size="6.3" text-anchor="end" stroke="#222" stroke-width="0.15">330</text>
<text x="96.60" y="295.20" font-size="6.3" text-anchor="end" stroke="#222" stroke-width="0.15">325</text>
<text x="96.60" y="318.00" font-size="6.3" text-anchor="end" stroke="#222" stroke-width="0.15">320</text>
<text x="109.20" y="324.40" font-size="6.3" text-anchor="middle" stroke="#222" stroke-width="0.15">66</text>
<text x="129.30" y="324.40" font-size="6.3" text-anchor="middle" stroke="#222" stroke-width="0.15">68</text>
<text x="149.30" y="324.40" font-size="6.3" text-anchor="middle" stroke="#222" stroke-width="0.15">70</text>
<line x1="182.70" y1="324.40" x2="168.30" y2="318.10" stroke="#000" stroke-width="0.6" />
<path d="M164.20,316.30 L170.25,316.44 L168.30,318.10 L168.41,320.65 Z" fill="#000"/>
<text x="15.00" y="289.60" font-size="8.6" font-weight="bold" text-anchor="middle" textLength="52.10" lengthAdjust="spacingAndGlyphs" transform="rotate(-90 15.00 289.60)">Velocity (m/s)</text>
<text x="109.50" y="383.20" font-size="8.6" font-weight="bold" textLength="34.00" lengthAdjust="spacingAndGlyphs">Times (s)</text>
<text x="70.8" y="405.9" font-size="11.4" fill="#1a1a1a" stroke="#1a1a1a" stroke-width="0.12" textLength="102" lengthAdjust="spacingAndGlyphs">(<tspan font-weight="bold">c</tspan>) Velocity vs. VCEC</text>
<line x1="370.44" y1="217.80" x2="370.44" y2="357.60" stroke="#e6e6e6" stroke-width="0.5" />
<line x1="393.57" y1="217.80" x2="393.57" y2="357.60" stroke="#e6e6e6" stroke-width="0.5" />
<line x1="416.71" y1="217.80" x2="416.71" y2="357.60" stroke="#e6e6e6" stroke-width="0.5" />
<line x1="439.85" y1="217.80" x2="439.85" y2="357.60" stroke="#e6e6e6" stroke-width="0.5" />
<line x1="462.99" y1="217.80" x2="462.99" y2="357.60" stroke="#e6e6e6" stroke-width="0.5" />
<line x1="486.12" y1="217.80" x2="486.12" y2="357.60" stroke="#e6e6e6" stroke-width="0.5" />
<line x1="509.26" y1="217.80" x2="509.26" y2="357.60" stroke="#e6e6e6" stroke-width="0.5" />
<line x1="347.30" y1="335.40" x2="532.40" y2="335.40" stroke="#e6e6e6" stroke-width="0.5" />
<line x1="347.30" y1="312.10" x2="532.40" y2="312.10" stroke="#e6e6e6" stroke-width="0.5" />
<line x1="347.30" y1="288.80" x2="532.40" y2="288.80" stroke="#e6e6e6" stroke-width="0.5" />
<line x1="347.30" y1="265.50" x2="532.40" y2="265.50" stroke="#e6e6e6" stroke-width="0.5" />
<line x1="347.30" y1="242.20" x2="532.40" y2="242.20" stroke="#e6e6e6" stroke-width="0.5" />
<rect x="347.30" y="217.80" width="185.10" height="139.80" fill="none" stroke="#b0b0b0" stroke-width="0.9"/>
<line x1="347.30" y1="335.40" x2="349.10" y2="335.40" stroke="#b0b0b0" stroke-width="0.8" />
<line x1="532.40" y1="335.40" x2="530.60" y2="335.40" stroke="#b0b0b0" stroke-width="0.8" />
<line x1="347.30" y1="312.10" x2="349.10" y2="312.10" stroke="#b0b0b0" stroke-width="0.8" />
<line x1="532.40" y1="312.10" x2="530.60" y2="312.10" stroke="#b0b0b0" stroke-width="0.8" />
<line x1="347.30" y1="288.80" x2="349.10" y2="288.80" stroke="#b0b0b0" stroke-width="0.8" />
<line x1="532.40" y1="288.80" x2="530.60" y2="288.80" stroke="#b0b0b0" stroke-width="0.8" />
<line x1="347.30" y1="265.50" x2="349.10" y2="265.50" stroke="#b0b0b0" stroke-width="0.8" />
<line x1="532.40" y1="265.50" x2="530.60" y2="265.50" stroke="#b0b0b0" stroke-width="0.8" />
<line x1="347.30" y1="242.20" x2="349.10" y2="242.20" stroke="#b0b0b0" stroke-width="0.8" />
<line x1="532.40" y1="242.20" x2="530.60" y2="242.20" stroke="#b0b0b0" stroke-width="0.8" />
<line x1="347.30" y1="218.90" x2="349.10" y2="218.90" stroke="#b0b0b0" stroke-width="0.8" />
<line x1="532.40" y1="218.90" x2="530.60" y2="218.90" stroke="#b0b0b0" stroke-width="0.8" />
<line x1="347.30" y1="357.60" x2="347.30" y2="355.80" stroke="#b0b0b0" stroke-width="0.8" />
<line x1="347.30" y1="217.80" x2="347.30" y2="219.60" stroke="#b0b0b0" stroke-width="0.8" />
<line x1="370.44" y1="357.60" x2="370.44" y2="355.80" stroke="#b0b0b0" stroke-width="0.8" />
<line x1="370.44" y1="217.80" x2="370.44" y2="219.60" stroke="#b0b0b0" stroke-width="0.8" />
<line x1="393.57" y1="357.60" x2="393.57" y2="355.80" stroke="#b0b0b0" stroke-width="0.8" />
<line x1="393.57" y1="217.80" x2="393.57" y2="219.60" stroke="#b0b0b0" stroke-width="0.8" />
<line x1="416.71" y1="357.60" x2="416.71" y2="355.80" stroke="#b0b0b0" stroke-width="0.8" />
<line x1="416.71" y1="217.80" x2="416.71" y2="219.60" stroke="#b0b0b0" stroke-width="0.8" />
<line x1="439.85" y1="357.60" x2="439.85" y2="355.80" stroke="#b0b0b0" stroke-width="0.8" />
<line x1="439.85" y1="217.80" x2="439.85" y2="219.60" stroke="#b0b0b0" stroke-width="0.8" />
<line x1="462.99" y1="357.60" x2="462.99" y2="355.80" stroke="#b0b0b0" stroke-width="0.8" />
<line x1="462.99" y1="217.80" x2="462.99" y2="219.60" stroke="#b0b0b0" stroke-width="0.8" />
<line x1="486.12" y1="357.60" x2="486.12" y2="355.80" stroke="#b0b0b0" stroke-width="0.8" />
<line x1="486.12" y1="217.80" x2="486.12" y2="219.60" stroke="#b0b0b0" stroke-width="0.8" />
<line x1="509.26" y1="357.60" x2="509.26" y2="355.80" stroke="#b0b0b0" stroke-width="0.8" />
<line x1="509.26" y1="217.80" x2="509.26" y2="219.60" stroke="#b0b0b0" stroke-width="0.8" />
<line x1="532.40" y1="357.60" x2="532.40" y2="355.80" stroke="#b0b0b0" stroke-width="0.8" />
<line x1="532.40" y1="217.80" x2="532.40" y2="219.60" stroke="#b0b0b0" stroke-width="0.8" />
<text x="344.30" y="338.10" font-size="7.8" text-anchor="end" stroke="#222" stroke-width="0.2">300</text>
<text x="344.30" y="314.80" font-size="7.8" text-anchor="end" stroke="#222" stroke-width="0.2">400</text>
<text x="344.30" y="291.50" font-size="7.8" text-anchor="end" stroke="#222" stroke-width="0.2">500</text>
<text x="344.30" y="268.20" font-size="7.8" text-anchor="end" stroke="#222" stroke-width="0.2">600</text>
<text x="344.30" y="244.90" font-size="7.8" text-anchor="end" stroke="#222" stroke-width="0.2">700</text>
<text x="344.30" y="221.60" font-size="7.8" text-anchor="end" stroke="#222" stroke-width="0.2">800</text>
<text x="370.44" y="368.00" font-size="7.8" text-anchor="middle" stroke="#222" stroke-width="0.2">10</text>
<text x="393.57" y="368.00" font-size="7.8" text-anchor="middle" stroke="#222" stroke-width="0.2">20</text>
<text x="416.71" y="368.00" font-size="7.8" text-anchor="middle" stroke="#222" stroke-width="0.2">30</text>
<text x="439.85" y="368.00" font-size="7.8" text-anchor="middle" stroke="#222" stroke-width="0.2">40</text>
<text x="462.99" y="368.00" font-size="7.8" text-anchor="middle" stroke="#222" stroke-width="0.2">50</text>
<text x="486.12" y="368.00" font-size="7.8" text-anchor="middle" stroke="#222" stroke-width="0.2">60</text>
<text x="509.26" y="368.00" font-size="7.8" text-anchor="middle" stroke="#222" stroke-width="0.2">70</text>
<text x="532.40" y="368.00" font-size="7.8" text-anchor="middle" stroke="#222" stroke-width="0.2">80</text>
<path d="M347.30,238.92 L347.80,240.87 L348.30,242.79 L348.80,244.68 L349.30,246.53 L349.80,248.36 L350.30,250.16 L350.80,251.94 L351.30,253.68 L351.80,255.40 L352.30,257.09 L352.80,258.75 L353.30,260.39 L353.80,262.00 L354.30,263.59 L354.80,265.16 L355.30,266.69 L355.80,268.21 L356.30,269.70 L356.80,271.17 L357.30,272.62 L357.80,274.04 L358.30,275.45 L358.80,276.83 L359.30,278.19 L359.80,279.54 L360.30,280.86 L360.80,282.16 L361.30,283.45 L361.80,284.72 L362.30,285.97 L362.80,287.20 L363.30,288.41 L363.80,289.61 L364.30,290.79 L364.80,291.95 L365.30,293.10 L365.80,294.23 L366.30,295.34 L366.80,296.44 L367.30,297.52 L367.80,298.59 L368.30,299.65 L368.80,300.68 L369.30,301.71 L369.80,302.71 L370.30,303.71 L370.80,304.69 L371.30,305.65 L371.80,306.60 L372.30,307.53 L372.80,308.45 L373.30,309.35 L373.80,310.24 L374.30,311.12 L374.80,311.98 L375.30,312.83 L375.80,313.66 L376.30,314.47 L376.80,315.28 L377.30,316.06 L377.80,316.84 L378.30,317.60 L378.80,318.34 L379.30,319.08 L379.80,319.79 L380.30,320.50 L380.80,321.19 L381.30,321.87 L381.80,322.54 L382.30,323.19 L382.80,323.83 L383.30,324.46 L383.80,325.07 L384.30,325.68 L384.80,326.27 L385.30,326.85 L385.80,327.42 L386.30,327.98 L386.80,328.52 L387.30,329.06 L387.80,329.59 L388.30,330.10 L388.80,330.61 L389.30,331.10 L389.80,331.59 L390.30,332.06 L390.80,332.53 L391.30,332.98 L391.80,333.43 L392.30,333.87 L392.80,334.30 L393.30,334.72 L393.80,335.13 L394.30,335.54 L394.80,335.93 L395.30,336.32 L395.80,336.70 L396.30,337.08 L396.80,337.44 L397.30,337.80 L397.80,338.15 L398.30,338.49 L398.80,338.83 L399.30,339.15 L399.80,339.47 L400.30,339.79 L400.80,340.09 L401.30,340.39 L401.80,340.68 L402.30,340.97 L402.80,341.24 L403.30,341.51 L403.80,341.78 L404.30,342.03 L404.80,342.28 L405.30,342.53 L405.80,342.76 L406.30,342.99 L406.80,343.21 L407.30,343.43 L407.80,343.64 L408.30,343.84 L408.80,344.04 L409.30,344.23 L409.80,344.42 L410.30,344.59 L410.80,344.77 L411.30,344.93 L411.80,345.09 L412.30,345.25 L412.80,345.39 L413.30,345.54 L413.80,345.67 L414.30,345.80 L414.80,345.93 L415.30,346.05 L415.80,346.16 L416.30,346.27 L416.80,346.37 L417.30,346.47 L417.80,346.56 L418.30,346.64 L418.80,346.73 L419.30,346.80 L419.80,346.87 L420.30,346.94 L420.80,347.00 L421.30,347.05 L421.80,347.10" fill="none" stroke="#222" stroke-width="1.2" />
<path d="M421.80,347.10 L422.40,347.16 L423.00,347.20 L423.60,347.24 L424.20,347.28 L424.80,347.30 L425.40,347.32 L426.00,347.34 L426.60,347.34 L427.20,347.35 L427.80,347.34 L428.40,347.33 L429.00,347.31 L429.59,347.29 L430.19,347.26 L430.79,347.22 L431.39,347.18 L431.99,347.14 L432.59,347.09 L433.19,347.03 L433.79,346.97 L434.39,346.90 L434.99,346.83 L435.59,346.75 L436.19,346.67 L436.79,346.58 L437.39,346.49 L437.99,346.39 L438.59,346.29 L439.19,346.19 L439.78,346.08 L440.38,345.96 L440.98,345.84 L441.58,345.72 L442.18,345.60 L442.78,345.47 L443.38,345.33 L443.98,345.20 L444.58,345.06 L445.18,344.91 L445.78,344.76 L446.38,344.61 L446.98,344.46 L447.58,344.30 L448.18,344.14 L448.78,343.98 L449.38,343.81 L449.97,343.64 L450.57,343.47 L451.17,343.30 L451.77,343.12 L452.37,342.94 L452.97,342.76 L453.57,342.58 L454.17,342.39 L454.77,342.21 L455.37,342.02 L455.97,341.83 L456.57,341.63 L457.17,341.44 L457.77,341.25 L458.37,341.05 L458.97,340.85 L459.57,340.65 L460.16,340.45 L460.76,340.25 L461.36,340.05 L461.96,339.84 L462.56,339.64 L463.16,339.43 L463.76,339.23 L464.36,339.02 L464.96,338.82 L465.56,338.61 L466.16,338.40 L466.76,338.20 L467.36,337.99 L467.96,337.78 L468.56,337.58 L469.16,337.37 L469.75,337.17 L470.35,336.96 L470.95,336.76 L471.55,336.55 L472.15,336.35 L472.75,336.15 L473.35,335.94 L473.95,335.74 L474.55,335.54 L475.15,335.35 L475.75,335.15 L476.35,334.95 L476.95,334.76 L477.55,334.57 L478.15,334.38 L478.75,334.19 L479.35,334.00 L479.94,333.82 L480.54,333.63 L481.14,333.45 L481.74,333.28 L482.34,333.10 L482.94,332.93 L483.54,332.76 L484.14,332.59 L484.74,332.42 L485.34,332.26 L485.94,332.10 L486.54,331.94 L487.14,331.79 L487.74,331.64 L488.34,331.49 L488.94,331.35 L489.54,331.21 L490.13,331.07 L490.73,330.94 L491.33,330.81 L491.93,330.68 L492.53,330.56 L493.13,330.44 L493.73,330.33 L494.33,330.22 L494.93,330.12 L495.53,330.02 L496.13,329.92 L496.73,329.83 L497.33,329.74 L497.93,329.66 L498.53,329.58 L499.13,329.51 L499.72,329.45 L500.32,329.38 L500.92,329.33 L501.52,329.28 L502.12,329.23 L502.72,329.19 L503.32,329.16 L503.92,329.13 L504.52,329.11 L505.12,329.09 L505.72,329.08 L506.32,329.07 L506.92,329.08 L507.52,329.08 L508.12,329.10 L508.72,329.12 L509.32,329.15 L509.91,329.18 L510.51,329.22 L511.11,329.27" fill="none" stroke="#f7601f" stroke-width="1.3" />
<path d="M421.80,346.95 L422.40,347.01 L423.00,347.05 L423.60,347.09 L424.20,347.13 L424.80,347.15 L425.40,347.17 L426.00,347.19 L426.60,347.19 L427.20,347.20 L427.80,347.19 L428.40,347.18 L429.00,347.16 L429.59,347.14 L430.19,347.11 L430.79,347.07 L431.39,347.03 L431.99,346.99 L432.59,346.94 L433.19,346.88 L433.79,346.82 L434.39,346.75 L434.99,346.68 L435.59,346.60 L436.19,346.52 L436.79,346.43 L437.39,346.34 L437.99,346.24 L438.59,346.14 L439.19,346.04 L439.78,345.93 L440.38,345.81 L440.98,345.69 L441.58,345.57 L442.18,345.45 L442.78,345.32 L443.38,345.18 L443.98,345.05 L444.58,344.91 L445.18,344.76 L445.78,344.61 L446.38,344.46 L446.98,344.31 L447.58,344.15 L448.18,343.99 L448.78,343.83 L449.38,343.66 L449.97,343.49 L450.57,343.32 L451.17,343.15 L451.77,342.97 L452.37,342.79 L452.97,342.61 L453.57,342.43 L454.17,342.24 L454.77,342.06 L455.37,341.87 L455.97,341.68 L456.57,341.48 L457.17,341.29 L457.77,341.10 L458.37,340.90 L458.97,340.70 L459.57,340.50 L460.16,340.30 L460.76,340.10 L461.36,339.90 L461.96,339.69 L462.56,339.49 L463.16,339.28 L463.76,339.08 L464.36,338.87 L464.96,338.67 L465.56,338.46 L466.16,338.25 L466.76,338.05 L467.36,337.84 L467.96,337.63 L468.56,337.43 L469.16,337.22 L469.75,337.02 L470.35,336.81 L470.95,336.61 L471.55,336.40 L472.15,336.20 L472.75,336.00 L473.35,335.79 L473.95,335.59 L474.55,335.39 L475.15,335.20 L475.75,335.00 L476.35,334.80 L476.95,334.61 L477.55,334.42 L478.15,334.23 L478.75,334.04 L479.35,333.85 L479.94,333.67 L480.54,333.48 L481.14,333.30 L481.74,333.13 L482.34,332.95 L482.94,332.78 L483.54,332.61 L484.14,332.44 L484.74,332.27 L485.34,332.11 L485.94,331.95 L486.54,331.79 L487.14,331.64 L487.74,331.49 L488.34,331.34 L488.94,331.20 L489.54,331.06 L490.13,330.92 L490.73,330.79 L491.33,330.66 L491.93,330.53 L492.53,330.41 L493.13,330.29 L493.73,330.18 L494.33,330.07 L494.93,329.97 L495.53,329.87 L496.13,329.77 L496.73,329.68 L497.33,329.59 L497.93,329.51 L498.53,329.43 L499.13,329.36 L499.72,329.30 L500.32,329.23 L500.92,329.18 L501.52,329.13 L502.12,329.08 L502.72,329.04 L503.32,329.01 L503.92,328.98 L504.52,328.96 L505.12,328.94 L505.72,328.93 L506.32,328.92 L506.92,328.93 L507.52,328.93 L508.12,328.95 L508.72,328.97 L509.32,329.00 L509.91,329.03 L510.51,329.07 L511.11,329.12" fill="none" stroke="#5db535" stroke-width="1.3" />
<path d="M421.80,346.80 L422.40,346.86 L423.00,346.90 L423.60,346.94 L424.20,346.98 L424.80,347.00 L425.40,347.02 L426.00,347.04 L426.60,347.04 L427.20,347.05 L427.80,347.04 L428.40,347.03 L429.00,347.01 L429.59,346.99 L430.19,346.96 L430.79,346.92 L431.39,346.88 L431.99,346.84 L432.59,346.79 L433.19,346.73 L433.79,346.67 L434.39,346.60 L434.99,346.53 L435.59,346.45 L436.19,346.37 L436.79,346.28 L437.39,346.19 L437.99,346.09 L438.59,345.99 L439.19,345.89 L439.78,345.78 L440.38,345.66 L440.98,345.54 L441.58,345.42 L442.18,345.30 L442.78,345.17 L443.38,345.03 L443.98,344.90 L444.58,344.76 L445.18,344.61 L445.78,344.46 L446.38,344.31 L446.98,344.16 L447.58,344.00 L448.18,343.84 L448.78,343.68 L449.38,343.51 L449.97,343.34 L450.57,343.17 L451.17,343.00 L451.77,342.82 L452.37,342.64 L452.97,342.46 L453.57,342.28 L454.17,342.09 L454.77,341.91 L455.37,341.72 L455.97,341.53 L456.57,341.33 L457.17,341.14 L457.77,340.95 L458.37,340.75 L458.97,340.55 L459.57,340.35 L460.16,340.15 L460.76,339.95 L461.36,339.75 L461.96,339.54 L462.56,339.34 L463.16,339.13 L463.76,338.93 L464.36,338.72 L464.96,338.52 L465.56,338.31 L466.16,338.10 L466.76,337.90 L467.36,337.69 L467.96,337.48 L468.56,337.28 L469.16,337.07 L469.75,336.87 L470.35,336.66 L470.95,336.46 L471.55,336.25 L472.15,336.05 L472.75,335.85 L473.35,335.64 L473.95,335.44 L474.55,335.24 L475.15,335.05 L475.75,334.85 L476.35,334.65 L476.95,334.46 L477.55,334.27 L478.15,334.08 L478.75,333.89 L479.35,333.70 L479.94,333.52 L480.54,333.33 L481.14,333.15 L481.74,332.98 L482.34,332.80 L482.94,332.63 L483.54,332.46 L484.14,332.29 L484.74,332.12 L485.34,331.96 L485.94,331.80 L486.54,331.64 L487.14,331.49 L487.74,331.34 L488.34,331.19 L488.94,331.05 L489.54,330.91 L490.13,330.77 L490.73,330.64 L491.33,330.51 L491.93,330.38 L492.53,330.26 L493.13,330.14 L493.73,330.03 L494.33,329.92 L494.93,329.82 L495.53,329.72 L496.13,329.62 L496.73,329.53 L497.33,329.44 L497.93,329.36 L498.53,329.28 L499.13,329.21 L499.72,329.15 L500.32,329.08 L500.92,329.03 L501.52,328.98 L502.12,328.93 L502.72,328.89 L503.32,328.86 L503.92,328.83 L504.52,328.81 L505.12,328.79 L505.72,328.78 L506.32,328.77 L506.92,328.78 L507.52,328.78 L508.12,328.80 L508.72,328.82 L509.32,328.85 L509.91,328.88 L510.51,328.92 L511.11,328.97" fill="none" stroke="#27c0f0" stroke-width="1.3" stroke-dasharray="4.4,4.2" />
<path d="M421.80,347.40 L422.40,347.46 L423.00,347.50 L423.60,347.54 L424.20,347.58 L424.80,347.60 L425.40,347.62 L426.00,347.64 L426.60,347.64 L427.20,347.65 L427.80,347.64 L428.40,347.63 L429.00,347.61 L429.59,347.59 L430.19,347.56 L430.79,347.52 L431.39,347.48 L431.99,347.44 L432.59,347.39 L433.19,347.33 L433.79,347.27 L434.39,347.20 L434.99,347.13 L435.59,347.05 L436.19,346.97 L436.79,346.88 L437.39,346.79 L437.99,346.69 L438.59,346.59 L439.19,346.49 L439.78,346.38 L440.38,346.26 L440.98,346.14 L441.58,346.02 L442.18,345.90 L442.78,345.77 L443.38,345.63 L443.98,345.50 L444.58,345.36 L445.18,345.21 L445.78,345.06 L446.38,344.91 L446.98,344.76 L447.58,344.60 L448.18,344.44 L448.78,344.28 L449.38,344.11 L449.97,343.94 L450.57,343.77 L451.17,343.60 L451.77,343.42 L452.37,343.24 L452.97,343.06 L453.57,342.88 L454.17,342.69 L454.77,342.51 L455.37,342.32 L455.97,342.13 L456.57,341.93 L457.17,341.74 L457.77,341.55 L458.37,341.35 L458.97,341.15 L459.57,340.95 L460.16,340.75 L460.76,340.55 L461.36,340.35 L461.96,340.14 L462.56,339.94 L463.16,339.73 L463.76,339.53 L464.36,339.32 L464.96,339.12 L465.56,338.91 L466.16,338.70 L466.76,338.50 L467.36,338.29 L467.96,338.08 L468.56,337.88 L469.16,337.67 L469.75,337.47 L470.35,337.26 L470.95,337.06 L471.55,336.85 L472.15,336.65 L472.75,336.45 L473.35,336.24 L473.95,336.04 L474.55,335.84 L475.15,335.65 L475.75,335.45 L476.35,335.25 L476.95,335.06 L477.55,334.87 L478.15,334.68 L478.75,334.49 L479.35,334.30 L479.94,334.12 L480.54,333.93 L481.14,333.75 L481.74,333.58 L482.34,333.40 L482.94,333.23 L483.54,333.06 L484.14,332.89 L484.74,332.72 L485.34,332.56 L485.94,332.40 L486.54,332.24 L487.14,332.09 L487.74,331.94 L488.34,331.79 L488.94,331.65 L489.54,331.51 L490.13,331.37 L490.73,331.24 L491.33,331.11 L491.93,330.98 L492.53,330.86 L493.13,330.74 L493.73,330.63 L494.33,330.52 L494.93,330.42 L495.53,330.32 L496.13,330.22 L496.73,330.13 L497.33,330.04 L497.93,329.96 L498.53,329.88 L499.13,329.81 L499.72,329.75 L500.32,329.68 L500.92,329.63 L501.52,329.58 L502.12,329.53 L502.72,329.49 L503.32,329.46 L503.92,329.43 L504.52,329.41 L505.12,329.39 L505.72,329.38 L506.32,329.37 L506.92,329.38 L507.52,329.38 L508.12,329.40 L508.72,329.42 L509.32,329.45 L509.91,329.48 L510.51,329.52 L511.11,329.57" fill="none" stroke="#9a34b5" stroke-width="1.3" stroke-dasharray="3.8,1.4,1.9,1.4" />
<path d="M421.80,347.25 L422.40,347.31 L423.00,347.35 L423.60,347.39 L424.20,347.43 L424.80,347.45 L425.40,347.47 L426.00,347.49 L426.60,347.49 L427.20,347.50 L427.80,347.49 L428.40,347.48 L429.00,347.46 L429.59,347.44 L430.19,347.41 L430.79,347.37 L431.39,347.33 L431.99,347.29 L432.59,347.24 L433.19,347.18 L433.79,347.12 L434.39,347.05 L434.99,346.98 L435.59,346.90 L436.19,346.82 L436.79,346.73 L437.39,346.64 L437.99,346.54 L438.59,346.44 L439.19,346.34 L439.78,346.23 L440.38,346.11 L440.98,345.99 L441.58,345.87 L442.18,345.75 L442.78,345.62 L443.38,345.48 L443.98,345.35 L444.58,345.21 L445.18,345.06 L445.78,344.91 L446.38,344.76 L446.98,344.61 L447.58,344.45 L448.18,344.29 L448.78,344.13 L449.38,343.96 L449.97,343.79 L450.57,343.62 L451.17,343.45 L451.77,343.27 L452.37,343.09 L452.97,342.91 L453.57,342.73 L454.17,342.54 L454.77,342.36 L455.37,342.17 L455.97,341.98 L456.57,341.78 L457.17,341.59 L457.77,341.40 L458.37,341.20 L458.97,341.00 L459.57,340.80 L460.16,340.60 L460.76,340.40 L461.36,340.20 L461.96,339.99 L462.56,339.79 L463.16,339.58 L463.76,339.38 L464.36,339.17 L464.96,338.97 L465.56,338.76 L466.16,338.55 L466.76,338.35 L467.36,338.14 L467.96,337.93 L468.56,337.73 L469.16,337.52 L469.75,337.32 L470.35,337.11 L470.95,336.91 L471.55,336.70 L472.15,336.50 L472.75,336.30 L473.35,336.09 L473.95,335.89 L474.55,335.69 L475.15,335.50 L475.75,335.30 L476.35,335.10 L476.95,334.91 L477.55,334.72 L478.15,334.53 L478.75,334.34 L479.35,334.15 L479.94,333.97 L480.54,333.78 L481.14,333.60 L481.74,333.43 L482.34,333.25 L482.94,333.08 L483.54,332.91 L484.14,332.74 L484.74,332.57 L485.34,332.41 L485.94,332.25 L486.54,332.09 L487.14,331.94 L487.74,331.79 L488.34,331.64 L488.94,331.50 L489.54,331.36 L490.13,331.22 L490.73,331.09 L491.33,330.96 L491.93,330.83 L492.53,330.71 L493.13,330.59 L493.73,330.48 L494.33,330.37 L494.93,330.27 L495.53,330.17 L496.13,330.07 L496.73,329.98 L497.33,329.89 L497.93,329.81 L498.53,329.73 L499.13,329.66 L499.72,329.60 L500.32,329.53 L500.92,329.48 L501.52,329.43 L502.12,329.38 L502.72,329.34 L503.32,329.31 L503.92,329.28 L504.52,329.26 L505.12,329.24 L505.72,329.23 L506.32,329.22 L506.92,329.23 L507.52,329.23 L508.12,329.25 L508.72,329.27 L509.32,329.30 L509.91,329.33 L510.51,329.37 L511.11,329.42" fill="none" stroke="#fdb42a" stroke-width="1.3" stroke-dasharray="4.4,4.2" />
<path d="M421.80,347.15 L422.40,347.21 L423.00,347.25 L423.60,347.29 L424.20,347.33 L424.80,347.35 L425.40,347.37 L426.00,347.39 L426.60,347.39 L427.20,347.40 L427.80,347.39 L428.40,347.38 L429.00,347.36 L429.59,347.34 L430.19,347.31 L430.79,347.27 L431.39,347.23 L431.99,347.19 L432.59,347.14 L433.19,347.08 L433.79,347.02 L434.39,346.95 L434.99,346.88 L435.59,346.80 L436.19,346.72 L436.79,346.63 L437.39,346.54 L437.99,346.44 L438.59,346.34 L439.19,346.24 L439.78,346.13 L440.38,346.01 L440.98,345.89 L441.58,345.77 L442.18,345.65 L442.78,345.52 L443.38,345.38 L443.98,345.25 L444.58,345.11 L445.18,344.96 L445.78,344.81 L446.38,344.66 L446.98,344.51 L447.58,344.35 L448.18,344.19 L448.78,344.03 L449.38,343.86 L449.97,343.69 L450.57,343.52 L451.17,343.35 L451.77,343.17 L452.37,342.99 L452.97,342.81 L453.57,342.63 L454.17,342.44 L454.77,342.26 L455.37,342.07 L455.97,341.88 L456.57,341.68 L457.17,341.49 L457.77,341.30 L458.37,341.10 L458.97,340.90 L459.57,340.70 L460.16,340.50 L460.76,340.30 L461.36,340.10 L461.96,339.89 L462.56,339.69 L463.16,339.48 L463.76,339.28 L464.36,339.07 L464.96,338.87 L465.56,338.66 L466.16,338.45 L466.76,338.25 L467.36,338.04 L467.96,337.83 L468.56,337.63 L469.16,337.42 L469.75,337.22 L470.35,337.01 L470.95,336.81 L471.55,336.60 L472.15,336.40 L472.75,336.20 L473.35,335.99 L473.95,335.79 L474.55,335.59 L475.15,335.40 L475.75,335.20 L476.35,335.00 L476.95,334.81 L477.55,334.62 L478.15,334.43 L478.75,334.24 L479.35,334.05 L479.94,333.87 L480.54,333.68 L481.14,333.50 L481.74,333.33 L482.34,333.15 L482.94,332.98 L483.54,332.81 L484.14,332.64 L484.74,332.47 L485.34,332.31 L485.94,332.15 L486.54,331.99 L487.14,331.84 L487.74,331.69 L488.34,331.54 L488.94,331.40 L489.54,331.26 L490.13,331.12 L490.73,330.99 L491.33,330.86 L491.93,330.73 L492.53,330.61 L493.13,330.49 L493.73,330.38 L494.33,330.27 L494.93,330.17 L495.53,330.07 L496.13,329.97 L496.73,329.88 L497.33,329.79 L497.93,329.71 L498.53,329.63 L499.13,329.56 L499.72,329.50 L500.32,329.43 L500.92,329.38 L501.52,329.33 L502.12,329.28 L502.72,329.24 L503.32,329.21 L503.92,329.18 L504.52,329.16 L505.12,329.14 L505.72,329.13 L506.32,329.12 L506.92,329.13 L507.52,329.13 L508.12,329.15 L508.72,329.17 L509.32,329.20 L509.91,329.23 L510.51,329.27 L511.11,329.32" fill="none" stroke="#d1264a" stroke-width="1.3" stroke-dasharray="3.8,1.4,1.9,1.4" />
<rect x="500.00" y="323.80" width="18.60" height="18.60" fill="none" stroke="#a0a0a0" stroke-width="0.8"/>
<rect x="443.30" y="219.90" width="86.70" height="39.90" fill="#fff" stroke="#b4b4b4" stroke-width="1.3"/>
<path d="M445.90,227.00 L462.20,227.00" fill="none" stroke="#f7601f" stroke-width="1.8" />
<text transform="translate(464.40,228.70) skewX(-14)" font-size="7.8" font-style="italic" fill="#222" stroke="#222" stroke-width="0.12">ξ</text>
<text x="467.70" y="231.90" font-size="5.6" textLength="3.30" lengthAdjust="spacingAndGlyphs" stroke="#222" stroke-width="0.28">Z</text>
<text x="471.70" y="228.40" font-size="7.8" textLength="14.80" lengthAdjust="spacingAndGlyphs" stroke="#222" stroke-width="0.28">=-0.7</text>
<path d="M490.70,227.00 L506.60,227.00" fill="none" stroke="#5db535" stroke-width="1.8" />
<text transform="translate(508.80,228.70) skewX(-14)" font-size="7.8" font-style="italic" fill="#222" stroke="#222" stroke-width="0.12">ξ</text>
<text x="512.10" y="231.90" font-size="5.6" textLength="3.30" lengthAdjust="spacingAndGlyphs" stroke="#222" stroke-width="0.28">Z</text>
<text x="516.10" y="228.40" font-size="7.8" textLength="12.40" lengthAdjust="spacingAndGlyphs" stroke="#222" stroke-width="0.28">=0.3</text>
<path d="M445.90,240.00 L462.20,240.00" fill="none" stroke="#fdb42a" stroke-width="1.8" stroke-dasharray="4.4,4.2" />
<text transform="translate(464.40,241.70) skewX(-14)" font-size="7.8" font-style="italic" fill="#222" stroke="#222" stroke-width="0.12">ξ</text>
<text x="467.70" y="244.90" font-size="5.6" textLength="3.30" lengthAdjust="spacingAndGlyphs" stroke="#222" stroke-width="0.28">Z</text>
<text x="471.70" y="241.40" font-size="7.8" textLength="14.80" lengthAdjust="spacingAndGlyphs" stroke="#222" stroke-width="0.28">=-0.5</text>
<path d="M490.70,240.00 L506.60,240.00" fill="none" stroke="#27c0f0" stroke-width="1.8" stroke-dasharray="4.4,4.2" />
<text transform="translate(508.80,241.70) skewX(-14)" font-size="7.8" font-style="italic" fill="#222" stroke="#222" stroke-width="0.12">ξ</text>
<text x="512.10" y="244.90" font-size="5.6" textLength="3.30" lengthAdjust="spacingAndGlyphs" stroke="#222" stroke-width="0.28">Z</text>
<text x="516.10" y="241.40" font-size="7.8" textLength="12.40" lengthAdjust="spacingAndGlyphs" stroke="#222" stroke-width="0.28">=0.5</text>
<path d="M445.90,252.80 L462.20,252.80" fill="none" stroke="#9a34b5" stroke-width="1.8" stroke-dasharray="3.8,1.4,1.9,1.4" />
<text transform="translate(464.40,254.50) skewX(-14)" font-size="7.8" font-style="italic" fill="#222" stroke="#222" stroke-width="0.12">ξ</text>
<text x="467.70" y="257.70" font-size="5.6" textLength="3.30" lengthAdjust="spacingAndGlyphs" stroke="#222" stroke-width="0.28">Z</text>
<text x="471.70" y="254.20" font-size="7.8" textLength="14.80" lengthAdjust="spacingAndGlyphs" stroke="#222" stroke-width="0.28">=-0.3</text>
<path d="M490.70,252.80 L506.60,252.80" fill="none" stroke="#d1264a" stroke-width="1.8" stroke-dasharray="3.8,1.4,1.9,1.4" />
<text transform="translate(508.80,254.50) skewX(-14)" font-size="7.8" font-style="italic" fill="#222" stroke="#222" stroke-width="0.12">ξ</text>
<text x="512.10" y="257.70" font-size="5.6" textLength="3.30" lengthAdjust="spacingAndGlyphs" stroke="#222" stroke-width="0.28">Z</text>
<text x="516.10" y="254.20" font-size="7.8" textLength="12.40" lengthAdjust="spacingAndGlyphs" stroke="#222" stroke-width="0.28">=0.7</text>
<text x="371.70" y="243.40" font-size="7.4" font-weight="bold" textLength="40.70" lengthAdjust="spacingAndGlyphs">Uncontrolled</text>
<text x="371.70" y="252.70" font-size="7.4" font-weight="bold" textLength="21.50" lengthAdjust="spacingAndGlyphs">section</text>
<line x1="384.00" y1="254.60" x2="364.53" y2="279.95" stroke="#000" stroke-width="0.6" />
<path d="M361.80,283.50 L363.39,277.66 L364.53,279.95 L367.04,280.46 Z" fill="#000"/>
<rect x="419.80" y="262.20" width="70.30" height="48.20" fill="#fff" stroke="#a6a6a6" stroke-width="0.9"/>
<line x1="440.90" y1="262.20" x2="440.90" y2="310.40" stroke="#e6e6e6" stroke-width="0.5" />
<line x1="463.20" y1="262.20" x2="463.20" y2="310.40" stroke="#e6e6e6" stroke-width="0.5" />
<line x1="419.80" y1="273.20" x2="490.10" y2="273.20" stroke="#e6e6e6" stroke-width="0.5" />
<line x1="419.80" y1="282.50" x2="490.10" y2="282.50" stroke="#e6e6e6" stroke-width="0.5" />
<line x1="419.80" y1="292.20" x2="490.10" y2="292.20" stroke="#e6e6e6" stroke-width="0.5" />
<line x1="419.80" y1="301.50" x2="490.10" y2="301.50" stroke="#e6e6e6" stroke-width="0.5" />
<path d="M419.80,281.00 L456.60,269.30" fill="none" stroke="#f7601f" stroke-width="1.4" />
<path d="M419.80,281.80 L456.60,270.10" fill="none" stroke="#fdb42a" stroke-width="1.4" stroke-dasharray="4.4,4.2" />
<path d="M419.80,284.00 L457.00,271.50" fill="none" stroke="#9a34b5" stroke-width="1.4" stroke-dasharray="3.8,1.4,1.9,1.4" />
<path d="M419.80,298.40 L468.40,282.50" fill="none" stroke="#5db535" stroke-width="1.4" />
<path d="M419.80,306.70 L474.20,289.10" fill="none" stroke="#27c0f0" stroke-width="1.4" stroke-dasharray="4.4,4.2" />
<path d="M449.20,310.40 L485.00,298.40" fill="none" stroke="#d1264a" stroke-width="1.4" stroke-dasharray="3.8,1.4,1.9,1.4" />
<rect x="419.8" y="262.2" width="70.3" height="48.2" fill="none" stroke="#a6a6a6" stroke-width="0.9"/>
<text x="417.90" y="266.00" font-size="6.1" text-anchor="end" textLength="15.10" lengthAdjust="spacingAndGlyphs" stroke="#222" stroke-width="0.15">327.05</text>
<text x="417.90" y="275.30" font-size="6.1" text-anchor="end" textLength="8.23" lengthAdjust="spacingAndGlyphs" stroke="#222" stroke-width="0.15">327</text>
<text x="417.90" y="284.60" font-size="6.1" text-anchor="end" textLength="15.10" lengthAdjust="spacingAndGlyphs" stroke="#222" stroke-width="0.15">326.95</text>
<text x="417.90" y="294.30" font-size="6.1" text-anchor="end" textLength="12.35" lengthAdjust="spacingAndGlyphs" stroke="#222" stroke-width="0.15">326.9</text>
<text x="417.90" y="303.60" font-size="6.1" text-anchor="end" textLength="15.10" lengthAdjust="spacingAndGlyphs" stroke="#222" stroke-width="0.15">326.85</text>
<text x="440.90" y="318.50" font-size="6.1" text-anchor="middle" stroke="#222" stroke-width="0.15">70.6</text>
<text x="463.20" y="318.50" font-size="6.1" text-anchor="middle" stroke="#222" stroke-width="0.15">70.65</text>
<text x="486.00" y="318.50" font-size="6.1" text-anchor="middle" stroke="#222" stroke-width="0.15">70.7</text>
<line x1="500.00" y1="323.40" x2="477.40" y2="315.05" stroke="#000" stroke-width="0.6" />
<path d="M473.20,313.50 L479.25,313.28 L477.40,315.05 L477.66,317.60 Z" fill="#000"/>
<text x="326.00" y="287.20" font-size="8.6" font-weight="bold" text-anchor="middle" textLength="55.80" lengthAdjust="spacingAndGlyphs" transform="rotate(-90 326.00 287.20)">Velocity (m/s)</text>
<text x="422.10" y="380.60" font-size="8.6" font-weight="bold" textLength="35.30" lengthAdjust="spacingAndGlyphs">Times (s)</text>
<text x="384.1" y="405.6" font-size="11.4" fill="#1a1a1a" stroke="#1a1a1a" stroke-width="0.12" textLength="103.5" lengthAdjust="spacingAndGlyphs">(<tspan font-weight="bold">d</tspan>) Velocity vs. LCEC</text>
</g></svg></body></html>
